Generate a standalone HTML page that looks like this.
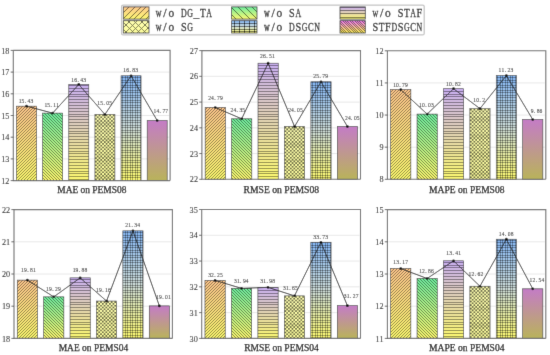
<!DOCTYPE html>
<html><head><meta charset="utf-8"><style>
html,body{margin:0;padding:0;background:#fff;}
body{width:550px;height:355px;overflow:hidden;font-family:"Liberation Serif", serif;}
svg{display:block;}
</style></head><body>
<svg width="550" height="355" viewBox="0 0 550 355" font-family='"Liberation Serif", serif'>
<defs>
<linearGradient id="g0" x1="0" y1="0" x2="0" y2="1"><stop offset="0" stop-color="#fcc68c"/><stop offset="1" stop-color="#fbf870"/></linearGradient>
<linearGradient id="g1" x1="0" y1="0" x2="0" y2="1"><stop offset="0" stop-color="#70ee9e"/><stop offset="1" stop-color="#fbf870"/></linearGradient>
<linearGradient id="g2" x1="0" y1="0" x2="0" y2="1"><stop offset="0" stop-color="#c8aef0"/><stop offset="1" stop-color="#fbf870"/></linearGradient>
<linearGradient id="g3" x1="0" y1="0" x2="0" y2="1"><stop offset="0" stop-color="#fcfcb0"/><stop offset="1" stop-color="#fcfc9c"/></linearGradient>
<linearGradient id="g4" x1="0" y1="0" x2="0" y2="1"><stop offset="0" stop-color="#84b6f4"/><stop offset="0.5" stop-color="#cddcd8"/><stop offset="1" stop-color="#fbf870"/></linearGradient>
<linearGradient id="g5" x1="0" y1="0" x2="0" y2="1"><stop offset="0" stop-color="#c47cc6"/><stop offset="1" stop-color="#b9b35a"/></linearGradient>
<pattern id="h0" patternUnits="userSpaceOnUse" width="20" height="2.1213" y="0" patternTransform="rotate(-45)"><rect x="0" y="0" width="20" height="0.375" fill="#000" fill-opacity="0.55"/><rect x="0" y="1.7463" width="20" height="0.375" fill="#000" fill-opacity="0.55"/></pattern>
<pattern id="h1" patternUnits="userSpaceOnUse" width="20" height="2.1213" y="0" patternTransform="rotate(45)"><rect x="0" y="0" width="20" height="0.375" fill="#000" fill-opacity="0.55"/><rect x="0" y="1.7463" width="20" height="0.375" fill="#000" fill-opacity="0.55"/></pattern>
<pattern id="h2" patternUnits="userSpaceOnUse" width="20" height="2.9000" y="0"><rect x="0" y="0" width="20" height="0.400" fill="#000" fill-opacity="0.55"/><rect x="0" y="2.5000" width="20" height="0.400" fill="#000" fill-opacity="0.55"/></pattern>
<pattern id="h3a" patternUnits="userSpaceOnUse" width="20" height="2.4042" y="0" patternTransform="rotate(45)"><rect x="0" y="0" width="20" height="0.300" fill="#000" fill-opacity="0.55"/><rect x="0" y="2.1042" width="20" height="0.300" fill="#000" fill-opacity="0.55"/></pattern>
<pattern id="h3b" patternUnits="userSpaceOnUse" width="20" height="2.4042" y="0" patternTransform="rotate(-45)"><rect x="0" y="0" width="20" height="0.300" fill="#000" fill-opacity="0.55"/><rect x="0" y="2.1042" width="20" height="0.300" fill="#000" fill-opacity="0.55"/></pattern>
<pattern id="h4a" patternUnits="userSpaceOnUse" width="20" height="2.6500" y="0"><rect x="0" y="0" width="20" height="0.300" fill="#000" fill-opacity="0.55"/><rect x="0" y="2.3500" width="20" height="0.300" fill="#000" fill-opacity="0.55"/></pattern>
<pattern id="h4b" patternUnits="userSpaceOnUse" width="20" height="2.6500" y="0" patternTransform="rotate(90)"><rect x="0" y="0" width="20" height="0.300" fill="#000" fill-opacity="0.55"/><rect x="0" y="2.3500" width="20" height="0.300" fill="#000" fill-opacity="0.55"/></pattern>
<pattern id="l0" patternUnits="userSpaceOnUse" width="20" height="4.1719" y="0" patternTransform="rotate(-45)"><rect x="0" y="0" width="20" height="0.550" fill="#000" fill-opacity="0.8"/><rect x="0" y="3.6219" width="20" height="0.550" fill="#000" fill-opacity="0.8"/></pattern>
<pattern id="l1" patternUnits="userSpaceOnUse" width="20" height="4.9497" y="0" patternTransform="rotate(45)"><rect x="0" y="0" width="20" height="0.550" fill="#000" fill-opacity="0.85"/><rect x="0" y="4.3997" width="20" height="0.550" fill="#000" fill-opacity="0.85"/></pattern>
<pattern id="l2" patternUnits="userSpaceOnUse" width="20" height="3.3000" y="7.3"><rect x="0" y="0" width="20" height="0.450" fill="#000" fill-opacity="0.55"/><rect x="0" y="2.8500" width="20" height="0.450" fill="#000" fill-opacity="0.55"/></pattern>
<pattern id="l3a" patternUnits="userSpaceOnUse" width="20" height="4.4548" y="0" patternTransform="rotate(45)"><rect x="0" y="0" width="20" height="0.400" fill="#000" fill-opacity="0.8"/><rect x="0" y="4.0548" width="20" height="0.400" fill="#000" fill-opacity="0.8"/></pattern>
<pattern id="l3b" patternUnits="userSpaceOnUse" width="20" height="4.4548" y="0" patternTransform="rotate(-45)"><rect x="0" y="0" width="20" height="0.400" fill="#000" fill-opacity="0.8"/><rect x="0" y="4.0548" width="20" height="0.400" fill="#000" fill-opacity="0.8"/></pattern>
<pattern id="l4a" patternUnits="userSpaceOnUse" width="20" height="2.9000" y="0"><rect x="0" y="0" width="20" height="0.400" fill="#000" fill-opacity="0.7"/><rect x="0" y="2.5000" width="20" height="0.400" fill="#000" fill-opacity="0.7"/></pattern>
<pattern id="l4b" patternUnits="userSpaceOnUse" width="20" height="5.2000" y="0" patternTransform="rotate(90)"><rect x="0" y="0" width="20" height="0.450" fill="#000" fill-opacity="0.7"/><rect x="0" y="4.7500" width="20" height="0.450" fill="#000" fill-opacity="0.7"/></pattern>
<pattern id="l5" patternUnits="userSpaceOnUse" width="20" height="1.6971" y="0" patternTransform="rotate(45)"><rect x="0" y="0" width="20" height="0.375" fill="#000" fill-opacity="0.85"/><rect x="0" y="1.3221" width="20" height="0.375" fill="#000" fill-opacity="0.85"/></pattern>
<linearGradient id="lg5" x1="0" y1="0" x2="0" y2="1"><stop offset="0" stop-color="#f07cf0"/><stop offset="1" stop-color="#f8f050"/></linearGradient>
<filter id="soft" x="0" y="0" width="550" height="355" filterUnits="userSpaceOnUse"><feConvolveMatrix order="3" kernelMatrix="0 1 0 1 8 1 0 1 0" divisor="12" edgeMode="duplicate"/></filter>
</defs>
<g filter="url(#soft)">
<rect width="550" height="355" fill="#fff"/>
<rect x="121.6" y="5.1" width="302.6" height="29.8" rx="1.5" fill="#fff" stroke="#c4c4c4" stroke-width="1.3"/>
<rect x="123.3" y="6.9" width="25.7" height="12.2" fill="url(#g0)"/>
<path d="M123.30,12.70L129.10,6.90M123.30,18.70L135.10,6.90M128.90,19.10L141.10,6.90M133.90,19.10L146.10,6.90M139.90,19.10L149.00,10.00M145.90,19.10L149.00,16.00" stroke="#000" stroke-opacity="0.85" stroke-width="0.8" fill="none"/>
<rect x="123.3" y="6.9" width="25.7" height="12.2" fill="none" stroke="#444" stroke-width="0.8"/>
<g font-size="12.0" fill="#2a2a2a" stroke="#2a2a2a" stroke-width="0.3"><text transform="translate(158.65,17.4) scale(0.658,1)" text-anchor="middle">w</text><text transform="translate(164.95,17.4) scale(1.000,1)" text-anchor="middle">/</text><text transform="translate(171.25,17.4) scale(0.950,1)" text-anchor="middle">o</text><text transform="translate(183.85,17.4) scale(0.658,1)" text-anchor="middle">D</text><text transform="translate(190.15,17.4) scale(0.658,1)" text-anchor="middle">G</text><text transform="translate(196.45,17.4) scale(0.950,1)" text-anchor="middle">_</text><text transform="translate(202.75,17.4) scale(0.778,1)" text-anchor="middle">T</text><text transform="translate(209.05,17.4) scale(0.658,1)" text-anchor="middle">A</text></g>
<rect x="123.3" y="20.7" width="25.7" height="12.3" fill="url(#g3)"/>
<path d="M123.30,21.70L124.30,20.70M123.30,27.70L130.30,20.70M125.00,33.00L137.30,20.70M131.00,33.00L143.30,20.70M137.00,33.00L149.00,21.00M143.00,33.00L149.00,27.00" stroke="#000" stroke-opacity="0.85" stroke-width="0.7" fill="none"/><path d="M123.30,29.30L127.00,33.00M123.30,22.30L134.00,33.00M127.70,20.70L140.00,33.00M133.70,20.70L146.00,33.00M140.70,20.70L149.00,29.00M146.70,20.70L149.00,23.00" stroke="#000" stroke-opacity="0.85" stroke-width="0.7" fill="none"/>
<rect x="123.3" y="20.7" width="25.7" height="12.3" fill="none" stroke="#444" stroke-width="0.8"/>
<g font-size="12.0" fill="#2a2a2a" stroke="#2a2a2a" stroke-width="0.3"><text transform="translate(158.65,31.2) scale(0.658,1)" text-anchor="middle">w</text><text transform="translate(164.95,31.2) scale(1.000,1)" text-anchor="middle">/</text><text transform="translate(171.25,31.2) scale(0.950,1)" text-anchor="middle">o</text><text transform="translate(183.85,31.2) scale(0.854,1)" text-anchor="middle">S</text><text transform="translate(190.15,31.2) scale(0.658,1)" text-anchor="middle">G</text></g>
<rect x="231.6" y="6.9" width="25.4" height="12.2" fill="url(#g1)"/>
<path d="M231.60,14.60L236.10,19.10M231.60,7.60L243.10,19.10M237.90,6.90L250.10,19.10M244.90,6.90L257.00,19.00M251.90,6.90L257.00,12.00" stroke="#000" stroke-opacity="0.9" stroke-width="0.8" fill="none"/>
<rect x="231.6" y="6.9" width="25.4" height="12.2" fill="none" stroke="#444" stroke-width="0.8"/>
<g font-size="12.0" fill="#2a2a2a" stroke="#2a2a2a" stroke-width="0.3"><text transform="translate(266.75,17.4) scale(0.658,1)" text-anchor="middle">w</text><text transform="translate(273.05,17.4) scale(1.000,1)" text-anchor="middle">/</text><text transform="translate(279.35,17.4) scale(0.950,1)" text-anchor="middle">o</text><text transform="translate(291.95,17.4) scale(0.854,1)" text-anchor="middle">S</text><text transform="translate(298.25,17.4) scale(0.658,1)" text-anchor="middle">A</text></g>
<rect x="231.6" y="20.7" width="25.4" height="12.3" fill="url(#g4)"/>
<path d="M231.60,23.50H257.00M231.60,26.50H257.00M231.60,29.50H257.00M231.60,31.50H257.00" stroke="#000" stroke-opacity="0.75" stroke-width="0.7" fill="none"/><path d="M234.50,20.70V33.00M239.50,20.70V33.00M244.50,20.70V33.00M249.50,20.70V33.00M254.50,20.70V33.00" stroke="#000" stroke-opacity="0.75" stroke-width="0.8" fill="none"/>
<rect x="231.6" y="20.7" width="25.4" height="12.3" fill="none" stroke="#444" stroke-width="0.8"/>
<g font-size="12.0" fill="#2a2a2a" stroke="#2a2a2a" stroke-width="0.3"><text transform="translate(266.75,31.2) scale(0.658,1)" text-anchor="middle">w</text><text transform="translate(273.05,31.2) scale(1.000,1)" text-anchor="middle">/</text><text transform="translate(279.35,31.2) scale(0.950,1)" text-anchor="middle">o</text><text transform="translate(291.95,31.2) scale(0.658,1)" text-anchor="middle">D</text><text transform="translate(298.25,31.2) scale(0.854,1)" text-anchor="middle">S</text><text transform="translate(304.55,31.2) scale(0.658,1)" text-anchor="middle">G</text><text transform="translate(310.85,31.2) scale(0.712,1)" text-anchor="middle">C</text><text transform="translate(317.15,31.2) scale(0.658,1)" text-anchor="middle">N</text></g>
<rect x="340.0" y="6.9" width="25.3" height="12.2" fill="url(#g2)"/>
<path d="M340.00,7.50H365.30M340.00,10.50H365.30M340.00,13.50H365.30M340.00,17.50H365.30" stroke="#000" stroke-opacity="0.6" stroke-width="0.8" fill="none"/>
<rect x="340.0" y="6.9" width="25.3" height="12.2" fill="none" stroke="#444" stroke-width="0.8"/>
<g font-size="12.0" fill="#2a2a2a" stroke="#2a2a2a" stroke-width="0.3"><text transform="translate(375.35,17.4) scale(0.658,1)" text-anchor="middle">w</text><text transform="translate(381.65,17.4) scale(1.000,1)" text-anchor="middle">/</text><text transform="translate(387.95,17.4) scale(0.950,1)" text-anchor="middle">o</text><text transform="translate(400.55,17.4) scale(0.854,1)" text-anchor="middle">S</text><text transform="translate(406.85,17.4) scale(0.778,1)" text-anchor="middle">T</text><text transform="translate(413.15,17.4) scale(0.658,1)" text-anchor="middle">A</text><text transform="translate(419.45,17.4) scale(0.854,1)" text-anchor="middle">F</text></g>
<rect x="340.0" y="20.7" width="25.3" height="12.3" fill="url(#lg5)"/>
<path d="M340.00,30.00L343.00,33.00M340.00,28.00L345.00,33.00M340.00,26.00L347.00,33.00M340.00,23.00L350.00,33.00M340.00,21.00L352.00,33.00M342.70,20.70L355.00,33.00M344.70,20.70L357.00,33.00M346.70,20.70L359.00,33.00M349.70,20.70L362.00,33.00M351.70,20.70L364.00,33.00M354.70,20.70L365.30,31.30M356.70,20.70L365.30,29.30M358.70,20.70L365.30,27.30M361.70,20.70L365.30,24.30M363.70,20.70L365.30,22.30" stroke="#000" stroke-opacity="0.9" stroke-width="0.6" fill="none"/>
<rect x="340.0" y="20.7" width="25.3" height="12.3" fill="none" stroke="#444" stroke-width="0.8"/>
<g font-size="12.0" fill="#2a2a2a" stroke="#2a2a2a" stroke-width="0.3"><text transform="translate(375.35,31.2) scale(0.854,1)" text-anchor="middle">S</text><text transform="translate(381.65,31.2) scale(0.778,1)" text-anchor="middle">T</text><text transform="translate(387.95,31.2) scale(0.854,1)" text-anchor="middle">F</text><text transform="translate(394.25,31.2) scale(0.658,1)" text-anchor="middle">D</text><text transform="translate(400.55,31.2) scale(0.854,1)" text-anchor="middle">S</text><text transform="translate(406.85,31.2) scale(0.658,1)" text-anchor="middle">G</text><text transform="translate(413.15,31.2) scale(0.712,1)" text-anchor="middle">C</text><text transform="translate(419.45,31.2) scale(0.658,1)" text-anchor="middle">N</text></g>
<line x1="14.3" y1="158.90" x2="169.1" y2="158.90" stroke="#e2e2e2" stroke-width="0.8"/>
<line x1="14.3" y1="137.20" x2="169.1" y2="137.20" stroke="#e2e2e2" stroke-width="0.8"/>
<line x1="14.3" y1="115.50" x2="169.1" y2="115.50" stroke="#e2e2e2" stroke-width="0.8"/>
<line x1="14.3" y1="93.80" x2="169.1" y2="93.80" stroke="#e2e2e2" stroke-width="0.8"/>
<line x1="14.3" y1="72.10" x2="169.1" y2="72.10" stroke="#e2e2e2" stroke-width="0.8"/>
<rect x="16.52" y="106.17" width="19.99" height="74.43" fill="url(#g0)"/>
<path d="M16.52,106.48L16.83,106.17M16.52,109.48L19.83,106.17M16.52,112.48L22.83,106.17M16.52,115.48L25.83,106.17M16.52,118.48L28.83,106.17M16.52,121.48L31.83,106.17M16.52,124.48L34.83,106.17M16.52,127.48L36.51,107.49M16.52,130.48L36.51,110.49M16.52,133.48L36.51,113.49M16.52,136.48L36.51,116.49M16.52,139.48L36.51,119.49M16.52,142.48L36.51,122.49M16.52,145.48L36.51,125.49M16.52,148.48L36.51,128.49M16.52,151.48L36.51,131.49M16.52,154.48L36.51,134.49M16.52,157.48L36.51,137.49M16.52,160.48L36.51,140.49M16.52,163.48L36.51,143.49M16.52,166.48L36.51,146.49M16.52,169.48L36.51,149.49M16.52,172.48L36.51,152.49M16.52,175.48L36.51,155.49M16.52,178.48L36.51,158.49M17.40,180.60L36.51,161.49M20.40,180.60L36.51,164.49M23.40,180.60L36.51,167.49M26.40,180.60L36.51,170.49M29.40,180.60L36.51,173.49M32.40,180.60L36.51,176.49M35.40,180.60L36.51,179.49" stroke="#000" stroke-opacity="0.58" stroke-width="0.9" fill="none"/>
<rect x="16.52" y="106.17" width="19.99" height="74.43" fill="none" stroke="#3a3a3a" stroke-width="0.6"/>
<rect x="42.65" y="113.11" width="19.99" height="67.49" fill="url(#g1)"/>
<path d="M42.65,177.65L45.60,180.60M42.65,174.65L48.60,180.60M42.65,171.65L51.60,180.60M42.65,168.65L54.60,180.60M42.65,165.65L57.60,180.60M42.65,162.65L60.60,180.60M42.65,159.65L62.65,179.65M42.65,156.65L62.65,176.65M42.65,153.65L62.65,173.65M42.65,150.65L62.65,170.65M42.65,147.65L62.65,167.65M42.65,144.65L62.65,164.65M42.65,141.65L62.65,161.65M42.65,138.65L62.65,158.65M42.65,135.65L62.65,155.65M42.65,132.65L62.65,152.65M42.65,129.65L62.65,149.65M42.65,126.65L62.65,146.65M42.65,123.65L62.65,143.65M42.65,120.65L62.65,140.65M42.65,117.65L62.65,137.65M42.65,114.65L62.65,134.65M44.11,113.11L62.65,131.65M47.11,113.11L62.65,128.65M50.11,113.11L62.65,125.65M53.11,113.11L62.65,122.65M56.11,113.11L62.65,119.65M59.11,113.11L62.65,116.65M62.11,113.11L62.65,113.65" stroke="#000" stroke-opacity="0.62" stroke-width="0.9" fill="none"/>
<rect x="42.65" y="113.11" width="19.99" height="67.49" fill="none" stroke="#3a3a3a" stroke-width="0.6"/>
<rect x="68.79" y="84.47" width="19.99" height="96.13" fill="url(#g2)"/>
<path d="M68.79,85.50H88.78M68.79,88.50H88.78M68.79,91.50H88.78M68.79,94.50H88.78M68.79,96.50H88.78M68.79,99.50H88.78M68.79,102.50H88.78M68.79,105.50H88.78M68.79,108.50H88.78M68.79,111.50H88.78M68.79,114.50H88.78M68.79,116.50H88.78M68.79,119.50H88.78M68.79,122.50H88.78M68.79,125.50H88.78M68.79,128.50H88.78M68.79,131.50H88.78M68.79,133.50H88.78M68.79,136.50H88.78M68.79,139.50H88.78M68.79,142.50H88.78M68.79,145.50H88.78M68.79,148.50H88.78M68.79,151.50H88.78M68.79,153.50H88.78M68.79,156.50H88.78M68.79,159.50H88.78M68.79,162.50H88.78M68.79,165.50H88.78M68.79,168.50H88.78M68.79,171.50H88.78M68.79,173.50H88.78M68.79,176.50H88.78M68.79,179.50H88.78" stroke="#000" stroke-opacity="0.5" stroke-width="0.8" fill="none"/>
<rect x="68.79" y="84.47" width="19.99" height="96.13" fill="none" stroke="#3a3a3a" stroke-width="0.6"/>
<rect x="94.92" y="114.41" width="19.99" height="66.19" fill="url(#g3)"/>
<path d="M95.12,114.71h1.60v1.60h-1.60zM98.67,114.71h1.60v1.60h-1.60zM102.22,114.71h1.60v1.60h-1.60zM105.77,114.71h1.60v1.60h-1.60zM109.32,114.71h1.60v1.60h-1.60zM112.87,114.71h1.60v1.60h-1.60zM96.90,116.49h1.60v1.60h-1.60zM100.45,116.49h1.60v1.60h-1.60zM104.00,116.49h1.60v1.60h-1.60zM107.55,116.49h1.60v1.60h-1.60zM111.10,116.49h1.60v1.60h-1.60zM114.65,116.49h0.27v1.60h-0.27zM95.12,118.26h1.60v1.60h-1.60zM98.67,118.26h1.60v1.60h-1.60zM102.22,118.26h1.60v1.60h-1.60zM105.77,118.26h1.60v1.60h-1.60zM109.32,118.26h1.60v1.60h-1.60zM112.87,118.26h1.60v1.60h-1.60zM96.90,120.04h1.60v1.60h-1.60zM100.45,120.04h1.60v1.60h-1.60zM104.00,120.04h1.60v1.60h-1.60zM107.55,120.04h1.60v1.60h-1.60zM111.10,120.04h1.60v1.60h-1.60zM114.65,120.04h0.27v1.60h-0.27zM95.12,121.81h1.60v1.60h-1.60zM98.67,121.81h1.60v1.60h-1.60zM102.22,121.81h1.60v1.60h-1.60zM105.77,121.81h1.60v1.60h-1.60zM109.32,121.81h1.60v1.60h-1.60zM112.87,121.81h1.60v1.60h-1.60zM96.90,123.59h1.60v1.60h-1.60zM100.45,123.59h1.60v1.60h-1.60zM104.00,123.59h1.60v1.60h-1.60zM107.55,123.59h1.60v1.60h-1.60zM111.10,123.59h1.60v1.60h-1.60zM114.65,123.59h0.27v1.60h-0.27zM95.12,125.36h1.60v1.60h-1.60zM98.67,125.36h1.60v1.60h-1.60zM102.22,125.36h1.60v1.60h-1.60zM105.77,125.36h1.60v1.60h-1.60zM109.32,125.36h1.60v1.60h-1.60zM112.87,125.36h1.60v1.60h-1.60zM96.90,127.14h1.60v1.60h-1.60zM100.45,127.14h1.60v1.60h-1.60zM104.00,127.14h1.60v1.60h-1.60zM107.55,127.14h1.60v1.60h-1.60zM111.10,127.14h1.60v1.60h-1.60zM114.65,127.14h0.27v1.60h-0.27zM95.12,128.91h1.60v1.60h-1.60zM98.67,128.91h1.60v1.60h-1.60zM102.22,128.91h1.60v1.60h-1.60zM105.77,128.91h1.60v1.60h-1.60zM109.32,128.91h1.60v1.60h-1.60zM112.87,128.91h1.60v1.60h-1.60zM96.90,130.69h1.60v1.60h-1.60zM100.45,130.69h1.60v1.60h-1.60zM104.00,130.69h1.60v1.60h-1.60zM107.55,130.69h1.60v1.60h-1.60zM111.10,130.69h1.60v1.60h-1.60zM114.65,130.69h0.27v1.60h-0.27zM95.12,132.46h1.60v1.60h-1.60zM98.67,132.46h1.60v1.60h-1.60zM102.22,132.46h1.60v1.60h-1.60zM105.77,132.46h1.60v1.60h-1.60zM109.32,132.46h1.60v1.60h-1.60zM112.87,132.46h1.60v1.60h-1.60zM96.90,134.24h1.60v1.60h-1.60zM100.45,134.24h1.60v1.60h-1.60zM104.00,134.24h1.60v1.60h-1.60zM107.55,134.24h1.60v1.60h-1.60zM111.10,134.24h1.60v1.60h-1.60zM114.65,134.24h0.27v1.60h-0.27zM95.12,136.01h1.60v1.60h-1.60zM98.67,136.01h1.60v1.60h-1.60zM102.22,136.01h1.60v1.60h-1.60zM105.77,136.01h1.60v1.60h-1.60zM109.32,136.01h1.60v1.60h-1.60zM112.87,136.01h1.60v1.60h-1.60zM96.90,137.79h1.60v1.60h-1.60zM100.45,137.79h1.60v1.60h-1.60zM104.00,137.79h1.60v1.60h-1.60zM107.55,137.79h1.60v1.60h-1.60zM111.10,137.79h1.60v1.60h-1.60zM114.65,137.79h0.27v1.60h-0.27zM95.12,139.56h1.60v1.60h-1.60zM98.67,139.56h1.60v1.60h-1.60zM102.22,139.56h1.60v1.60h-1.60zM105.77,139.56h1.60v1.60h-1.60zM109.32,139.56h1.60v1.60h-1.60zM112.87,139.56h1.60v1.60h-1.60zM96.90,141.34h1.60v1.60h-1.60zM100.45,141.34h1.60v1.60h-1.60zM104.00,141.34h1.60v1.60h-1.60zM107.55,141.34h1.60v1.60h-1.60zM111.10,141.34h1.60v1.60h-1.60zM114.65,141.34h0.27v1.60h-0.27zM95.12,143.11h1.60v1.60h-1.60zM98.67,143.11h1.60v1.60h-1.60zM102.22,143.11h1.60v1.60h-1.60zM105.77,143.11h1.60v1.60h-1.60zM109.32,143.11h1.60v1.60h-1.60zM112.87,143.11h1.60v1.60h-1.60zM96.90,144.89h1.60v1.60h-1.60zM100.45,144.89h1.60v1.60h-1.60zM104.00,144.89h1.60v1.60h-1.60zM107.55,144.89h1.60v1.60h-1.60zM111.10,144.89h1.60v1.60h-1.60zM114.65,144.89h0.27v1.60h-0.27zM95.12,146.66h1.60v1.60h-1.60zM98.67,146.66h1.60v1.60h-1.60zM102.22,146.66h1.60v1.60h-1.60zM105.77,146.66h1.60v1.60h-1.60zM109.32,146.66h1.60v1.60h-1.60zM112.87,146.66h1.60v1.60h-1.60zM96.90,148.44h1.60v1.60h-1.60zM100.45,148.44h1.60v1.60h-1.60zM104.00,148.44h1.60v1.60h-1.60zM107.55,148.44h1.60v1.60h-1.60zM111.10,148.44h1.60v1.60h-1.60zM114.65,148.44h0.27v1.60h-0.27zM95.12,150.21h1.60v1.60h-1.60zM98.67,150.21h1.60v1.60h-1.60zM102.22,150.21h1.60v1.60h-1.60zM105.77,150.21h1.60v1.60h-1.60zM109.32,150.21h1.60v1.60h-1.60zM112.87,150.21h1.60v1.60h-1.60zM96.90,151.99h1.60v1.60h-1.60zM100.45,151.99h1.60v1.60h-1.60zM104.00,151.99h1.60v1.60h-1.60zM107.55,151.99h1.60v1.60h-1.60zM111.10,151.99h1.60v1.60h-1.60zM114.65,151.99h0.27v1.60h-0.27zM95.12,153.76h1.60v1.60h-1.60zM98.67,153.76h1.60v1.60h-1.60zM102.22,153.76h1.60v1.60h-1.60zM105.77,153.76h1.60v1.60h-1.60zM109.32,153.76h1.60v1.60h-1.60zM112.87,153.76h1.60v1.60h-1.60zM96.90,155.54h1.60v1.60h-1.60zM100.45,155.54h1.60v1.60h-1.60zM104.00,155.54h1.60v1.60h-1.60zM107.55,155.54h1.60v1.60h-1.60zM111.10,155.54h1.60v1.60h-1.60zM114.65,155.54h0.27v1.60h-0.27zM95.12,157.31h1.60v1.60h-1.60zM98.67,157.31h1.60v1.60h-1.60zM102.22,157.31h1.60v1.60h-1.60zM105.77,157.31h1.60v1.60h-1.60zM109.32,157.31h1.60v1.60h-1.60zM112.87,157.31h1.60v1.60h-1.60zM96.90,159.09h1.60v1.60h-1.60zM100.45,159.09h1.60v1.60h-1.60zM104.00,159.09h1.60v1.60h-1.60zM107.55,159.09h1.60v1.60h-1.60zM111.10,159.09h1.60v1.60h-1.60zM114.65,159.09h0.27v1.60h-0.27zM95.12,160.86h1.60v1.60h-1.60zM98.67,160.86h1.60v1.60h-1.60zM102.22,160.86h1.60v1.60h-1.60zM105.77,160.86h1.60v1.60h-1.60zM109.32,160.86h1.60v1.60h-1.60zM112.87,160.86h1.60v1.60h-1.60zM96.90,162.64h1.60v1.60h-1.60zM100.45,162.64h1.60v1.60h-1.60zM104.00,162.64h1.60v1.60h-1.60zM107.55,162.64h1.60v1.60h-1.60zM111.10,162.64h1.60v1.60h-1.60zM114.65,162.64h0.27v1.60h-0.27zM95.12,164.41h1.60v1.60h-1.60zM98.67,164.41h1.60v1.60h-1.60zM102.22,164.41h1.60v1.60h-1.60zM105.77,164.41h1.60v1.60h-1.60zM109.32,164.41h1.60v1.60h-1.60zM112.87,164.41h1.60v1.60h-1.60zM96.90,166.19h1.60v1.60h-1.60zM100.45,166.19h1.60v1.60h-1.60zM104.00,166.19h1.60v1.60h-1.60zM107.55,166.19h1.60v1.60h-1.60zM111.10,166.19h1.60v1.60h-1.60zM114.65,166.19h0.27v1.60h-0.27zM95.12,167.96h1.60v1.60h-1.60zM98.67,167.96h1.60v1.60h-1.60zM102.22,167.96h1.60v1.60h-1.60zM105.77,167.96h1.60v1.60h-1.60zM109.32,167.96h1.60v1.60h-1.60zM112.87,167.96h1.60v1.60h-1.60zM96.90,169.74h1.60v1.60h-1.60zM100.45,169.74h1.60v1.60h-1.60zM104.00,169.74h1.60v1.60h-1.60zM107.55,169.74h1.60v1.60h-1.60zM111.10,169.74h1.60v1.60h-1.60zM114.65,169.74h0.27v1.60h-0.27zM95.12,171.51h1.60v1.60h-1.60zM98.67,171.51h1.60v1.60h-1.60zM102.22,171.51h1.60v1.60h-1.60zM105.77,171.51h1.60v1.60h-1.60zM109.32,171.51h1.60v1.60h-1.60zM112.87,171.51h1.60v1.60h-1.60zM96.90,173.29h1.60v1.60h-1.60zM100.45,173.29h1.60v1.60h-1.60zM104.00,173.29h1.60v1.60h-1.60zM107.55,173.29h1.60v1.60h-1.60zM111.10,173.29h1.60v1.60h-1.60zM114.65,173.29h0.27v1.60h-0.27zM95.12,175.06h1.60v1.60h-1.60zM98.67,175.06h1.60v1.60h-1.60zM102.22,175.06h1.60v1.60h-1.60zM105.77,175.06h1.60v1.60h-1.60zM109.32,175.06h1.60v1.60h-1.60zM112.87,175.06h1.60v1.60h-1.60zM96.90,176.84h1.60v1.60h-1.60zM100.45,176.84h1.60v1.60h-1.60zM104.00,176.84h1.60v1.60h-1.60zM107.55,176.84h1.60v1.60h-1.60zM111.10,176.84h1.60v1.60h-1.60zM114.65,176.84h0.27v1.60h-0.27zM95.12,178.61h1.60v1.60h-1.60zM98.67,178.61h1.60v1.60h-1.60zM102.22,178.61h1.60v1.60h-1.60zM105.77,178.61h1.60v1.60h-1.60zM109.32,178.61h1.60v1.60h-1.60zM112.87,178.61h1.60v1.60h-1.60zM96.90,180.39h1.60v0.21h-1.60zM100.45,180.39h1.60v0.21h-1.60zM104.00,180.39h1.60v0.21h-1.60zM107.55,180.39h1.60v0.21h-1.60zM111.10,180.39h1.60v0.21h-1.60zM114.65,180.39h0.27v0.21h-0.27z" fill="#000" fill-opacity="0.68"/>
<rect x="94.92" y="114.41" width="19.99" height="66.19" fill="none" stroke="#3a3a3a" stroke-width="0.6"/>
<rect x="121.05" y="75.79" width="19.99" height="104.81" fill="url(#g4)"/>
<path d="M121.05,77.50H141.05M121.05,80.50H141.05M121.05,82.50H141.05M121.05,85.50H141.05M121.05,87.50H141.05M121.05,90.50H141.05M121.05,92.50H141.05M121.05,95.50H141.05M121.05,97.50H141.05M121.05,100.50H141.05M121.05,102.50H141.05M121.05,105.50H141.05M121.05,107.50H141.05M121.05,110.50H141.05M121.05,112.50H141.05M121.05,115.50H141.05M121.05,117.50H141.05M121.05,120.50H141.05M121.05,122.50H141.05M121.05,125.50H141.05M121.05,127.50H141.05M121.05,130.50H141.05M121.05,132.50H141.05M121.05,135.50H141.05M121.05,137.50H141.05M121.05,140.50H141.05M121.05,142.50H141.05M121.05,145.50H141.05M121.05,147.50H141.05M121.05,150.50H141.05M121.05,152.50H141.05M121.05,155.50H141.05M121.05,157.50H141.05M121.05,160.50H141.05M121.05,162.50H141.05M121.05,165.50H141.05M121.05,167.50H141.05M121.05,170.50H141.05M121.05,172.50H141.05M121.05,175.50H141.05M121.05,177.50H141.05M121.05,180.50H141.05" stroke="#000" stroke-opacity="0.55" stroke-width="0.6" fill="none"/><path d="M122.50,75.79V180.60M125.50,75.79V180.60M127.50,75.79V180.60M130.50,75.79V180.60M132.50,75.79V180.60M135.50,75.79V180.60M137.50,75.79V180.60M140.50,75.79V180.60" stroke="#000" stroke-opacity="0.55" stroke-width="0.6" fill="none"/>
<rect x="121.05" y="75.79" width="19.99" height="104.81" fill="none" stroke="#3a3a3a" stroke-width="0.6"/>
<rect x="147.19" y="120.49" width="19.99" height="60.11" fill="url(#g5)"/>

<rect x="147.19" y="120.49" width="19.99" height="60.11" fill="none" stroke="#3a3a3a" stroke-width="0.6"/>
<path d="M26.52,106.17 L52.65,113.11 L78.78,84.47 L104.92,114.41 L131.05,75.79 L157.18,120.49" fill="none" stroke="#222" stroke-width="0.9"/>
<circle cx="26.52" cy="106.17" r="1.35" fill="#111"/>
<circle cx="52.65" cy="113.11" r="1.35" fill="#111"/>
<circle cx="78.78" cy="84.47" r="1.35" fill="#111"/>
<circle cx="104.92" cy="114.41" r="1.35" fill="#111"/>
<circle cx="131.05" cy="75.79" r="1.35" fill="#111"/>
<circle cx="157.18" cy="120.49" r="1.35" fill="#111"/>
<g font-size="6.8" fill="#3c3c3c" stroke="#3c3c3c" stroke-width="0.1"><text transform="translate(20.05,103.30) scale(0.82,1)" text-anchor="middle">1</text><text transform="translate(23.00,103.30) scale(0.82,1)" text-anchor="middle">5</text><text transform="translate(25.50,103.30) scale(0.82,1)" text-anchor="middle">.</text><text transform="translate(29.00,103.30) scale(0.82,1)" text-anchor="middle">4</text><text transform="translate(31.95,103.30) scale(0.82,1)" text-anchor="middle">3</text></g>
<g font-size="6.8" fill="#3c3c3c" stroke="#3c3c3c" stroke-width="0.1"><text transform="translate(45.80,106.90) scale(0.82,1)" text-anchor="middle">1</text><text transform="translate(48.75,106.90) scale(0.82,1)" text-anchor="middle">5</text><text transform="translate(51.25,106.90) scale(0.82,1)" text-anchor="middle">.</text><text transform="translate(54.75,106.90) scale(0.82,1)" text-anchor="middle">1</text><text transform="translate(57.70,106.90) scale(0.82,1)" text-anchor="middle">1</text></g>
<g font-size="6.8" fill="#3c3c3c" stroke="#3c3c3c" stroke-width="0.1"><text transform="translate(72.70,82.05) scale(0.82,1)" text-anchor="middle">1</text><text transform="translate(75.65,82.05) scale(0.82,1)" text-anchor="middle">6</text><text transform="translate(78.15,82.05) scale(0.82,1)" text-anchor="middle">.</text><text transform="translate(81.65,82.05) scale(0.82,1)" text-anchor="middle">4</text><text transform="translate(84.60,82.05) scale(0.82,1)" text-anchor="middle">3</text></g>
<g font-size="6.8" fill="#3c3c3c" stroke="#3c3c3c" stroke-width="0.1"><text transform="translate(98.75,105.20) scale(0.82,1)" text-anchor="middle">1</text><text transform="translate(101.70,105.20) scale(0.82,1)" text-anchor="middle">5</text><text transform="translate(104.20,105.20) scale(0.82,1)" text-anchor="middle">.</text><text transform="translate(107.70,105.20) scale(0.82,1)" text-anchor="middle">0</text><text transform="translate(110.65,105.20) scale(0.82,1)" text-anchor="middle">5</text></g>
<g font-size="6.8" fill="#3c3c3c" stroke="#3c3c3c" stroke-width="0.1"><text transform="translate(124.65,72.05) scale(0.82,1)" text-anchor="middle">1</text><text transform="translate(127.60,72.05) scale(0.82,1)" text-anchor="middle">6</text><text transform="translate(130.10,72.05) scale(0.82,1)" text-anchor="middle">.</text><text transform="translate(133.60,72.05) scale(0.82,1)" text-anchor="middle">8</text><text transform="translate(136.55,72.05) scale(0.82,1)" text-anchor="middle">3</text></g>
<g font-size="6.8" fill="#3c3c3c" stroke="#3c3c3c" stroke-width="0.1"><text transform="translate(154.85,113.30) scale(0.82,1)" text-anchor="middle">1</text><text transform="translate(157.80,113.30) scale(0.82,1)" text-anchor="middle">4</text><text transform="translate(160.30,113.30) scale(0.82,1)" text-anchor="middle">.</text><text transform="translate(163.80,113.30) scale(0.82,1)" text-anchor="middle">7</text><text transform="translate(166.75,113.30) scale(0.82,1)" text-anchor="middle">7</text></g>
<path d="M13.3,50.4 H170.1 V180.6" fill="none" stroke="#6e6e6e" stroke-width="1.1"/>
<path d="M13.3,50.4 V180.6 H170.1" fill="none" stroke="#6e6e6e" stroke-width="1.1"/>
<line x1="10.700000000000001" y1="180.60" x2="13.3" y2="180.60" stroke="#555" stroke-width="0.9"/>
<text x="9.4" y="183.70" font-size="8.2" text-anchor="end" fill="#2a2a2a" stroke="#2a2a2a" stroke-width="0.08">12</text>
<line x1="10.700000000000001" y1="158.90" x2="13.3" y2="158.90" stroke="#555" stroke-width="0.9"/>
<text x="9.4" y="162.00" font-size="8.2" text-anchor="end" fill="#2a2a2a" stroke="#2a2a2a" stroke-width="0.08">13</text>
<line x1="10.700000000000001" y1="137.20" x2="13.3" y2="137.20" stroke="#555" stroke-width="0.9"/>
<text x="9.4" y="140.30" font-size="8.2" text-anchor="end" fill="#2a2a2a" stroke="#2a2a2a" stroke-width="0.08">14</text>
<line x1="10.700000000000001" y1="115.50" x2="13.3" y2="115.50" stroke="#555" stroke-width="0.9"/>
<text x="9.4" y="118.60" font-size="8.2" text-anchor="end" fill="#2a2a2a" stroke="#2a2a2a" stroke-width="0.08">15</text>
<line x1="10.700000000000001" y1="93.80" x2="13.3" y2="93.80" stroke="#555" stroke-width="0.9"/>
<text x="9.4" y="96.90" font-size="8.2" text-anchor="end" fill="#2a2a2a" stroke="#2a2a2a" stroke-width="0.08">16</text>
<line x1="10.700000000000001" y1="72.10" x2="13.3" y2="72.10" stroke="#555" stroke-width="0.9"/>
<text x="9.4" y="75.20" font-size="8.2" text-anchor="end" fill="#2a2a2a" stroke="#2a2a2a" stroke-width="0.08">17</text>
<line x1="10.700000000000001" y1="50.40" x2="13.3" y2="50.40" stroke="#555" stroke-width="0.9"/>
<text x="9.4" y="53.50" font-size="8.2" text-anchor="end" fill="#2a2a2a" stroke="#2a2a2a" stroke-width="0.08">18</text>
<text x="57.3" y="193.2" font-size="10" textLength="69.1" lengthAdjust="spacingAndGlyphs" fill="#111" stroke="#111" stroke-width="0.25">MAE on PEMS08</text>
<line x1="202.9" y1="153.56" x2="359.5" y2="153.56" stroke="#e2e2e2" stroke-width="0.8"/>
<line x1="202.9" y1="127.82" x2="359.5" y2="127.82" stroke="#e2e2e2" stroke-width="0.8"/>
<line x1="202.9" y1="102.08" x2="359.5" y2="102.08" stroke="#e2e2e2" stroke-width="0.8"/>
<line x1="202.9" y1="76.34" x2="359.5" y2="76.34" stroke="#e2e2e2" stroke-width="0.8"/>
<rect x="205.16" y="107.49" width="20.22" height="71.81" fill="url(#g0)"/>
<path d="M205.16,109.84L207.51,107.49M205.16,112.84L210.51,107.49M205.16,115.84L213.51,107.49M205.16,118.84L216.51,107.49M205.16,121.84L219.51,107.49M205.16,124.84L222.51,107.49M205.16,127.84L225.38,107.62M205.16,130.84L225.38,110.62M205.16,133.84L225.38,113.62M205.16,136.84L225.38,116.62M205.16,139.84L225.38,119.62M205.16,142.84L225.38,122.62M205.16,145.84L225.38,125.62M205.16,148.84L225.38,128.62M205.16,151.84L225.38,131.62M205.16,154.84L225.38,134.62M205.16,157.84L225.38,137.62M205.16,160.84L225.38,140.62M205.16,163.84L225.38,143.62M205.16,166.84L225.38,146.62M205.16,169.84L225.38,149.62M205.16,172.84L225.38,152.62M205.16,175.84L225.38,155.62M205.16,178.84L225.38,158.62M207.70,179.30L225.38,161.62M210.70,179.30L225.38,164.62M213.70,179.30L225.38,167.62M216.70,179.30L225.38,170.62M219.70,179.30L225.38,173.62M222.70,179.30L225.38,176.62" stroke="#000" stroke-opacity="0.58" stroke-width="0.9" fill="none"/>
<rect x="205.16" y="107.49" width="20.22" height="71.81" fill="none" stroke="#3a3a3a" stroke-width="0.6"/>
<rect x="231.59" y="118.81" width="20.22" height="60.49" fill="url(#g1)"/>
<path d="M231.59,177.59L233.30,179.30M231.59,174.59L236.30,179.30M231.59,171.59L239.30,179.30M231.59,168.59L242.30,179.30M231.59,165.59L245.30,179.30M231.59,162.59L248.30,179.30M231.59,159.59L251.30,179.30M231.59,156.59L251.81,176.81M231.59,153.59L251.81,173.81M231.59,150.59L251.81,170.81M231.59,147.59L251.81,167.81M231.59,144.59L251.81,164.81M231.59,141.59L251.81,161.81M231.59,138.59L251.81,158.81M231.59,135.59L251.81,155.81M231.59,132.59L251.81,152.81M231.59,129.59L251.81,149.81M231.59,126.59L251.81,146.81M231.59,123.59L251.81,143.81M231.59,120.59L251.81,140.81M232.81,118.81L251.81,137.81M235.81,118.81L251.81,134.81M238.81,118.81L251.81,131.81M241.81,118.81L251.81,128.81M244.81,118.81L251.81,125.81M247.81,118.81L251.81,122.81M250.81,118.81L251.81,119.81" stroke="#000" stroke-opacity="0.62" stroke-width="0.9" fill="none"/>
<rect x="231.59" y="118.81" width="20.22" height="60.49" fill="none" stroke="#3a3a3a" stroke-width="0.6"/>
<rect x="258.02" y="63.21" width="20.22" height="116.09" fill="url(#g2)"/>
<path d="M258.02,65.50H278.24M258.02,68.50H278.24M258.02,71.50H278.24M258.02,74.50H278.24M258.02,76.50H278.24M258.02,79.50H278.24M258.02,82.50H278.24M258.02,85.50H278.24M258.02,88.50H278.24M258.02,91.50H278.24M258.02,94.50H278.24M258.02,96.50H278.24M258.02,99.50H278.24M258.02,102.50H278.24M258.02,105.50H278.24M258.02,108.50H278.24M258.02,111.50H278.24M258.02,114.50H278.24M258.02,116.50H278.24M258.02,119.50H278.24M258.02,122.50H278.24M258.02,125.50H278.24M258.02,128.50H278.24M258.02,131.50H278.24M258.02,133.50H278.24M258.02,136.50H278.24M258.02,139.50H278.24M258.02,142.50H278.24M258.02,145.50H278.24M258.02,148.50H278.24M258.02,151.50H278.24M258.02,153.50H278.24M258.02,156.50H278.24M258.02,159.50H278.24M258.02,162.50H278.24M258.02,165.50H278.24M258.02,168.50H278.24M258.02,171.50H278.24M258.02,173.50H278.24M258.02,176.50H278.24" stroke="#000" stroke-opacity="0.5" stroke-width="0.8" fill="none"/>
<rect x="258.02" y="63.21" width="20.22" height="116.09" fill="none" stroke="#3a3a3a" stroke-width="0.6"/>
<rect x="284.46" y="126.53" width="20.22" height="52.77" fill="url(#g3)"/>
<path d="M284.66,126.83h1.60v1.60h-1.60zM288.21,126.83h1.60v1.60h-1.60zM291.76,126.83h1.60v1.60h-1.60zM295.31,126.83h1.60v1.60h-1.60zM298.86,126.83h1.60v1.60h-1.60zM302.41,126.83h1.60v1.60h-1.60zM286.43,128.61h1.60v1.60h-1.60zM289.98,128.61h1.60v1.60h-1.60zM293.53,128.61h1.60v1.60h-1.60zM297.08,128.61h1.60v1.60h-1.60zM300.63,128.61h1.60v1.60h-1.60zM304.18,128.61h0.50v1.60h-0.50zM284.66,130.38h1.60v1.60h-1.60zM288.21,130.38h1.60v1.60h-1.60zM291.76,130.38h1.60v1.60h-1.60zM295.31,130.38h1.60v1.60h-1.60zM298.86,130.38h1.60v1.60h-1.60zM302.41,130.38h1.60v1.60h-1.60zM286.43,132.16h1.60v1.60h-1.60zM289.98,132.16h1.60v1.60h-1.60zM293.53,132.16h1.60v1.60h-1.60zM297.08,132.16h1.60v1.60h-1.60zM300.63,132.16h1.60v1.60h-1.60zM304.18,132.16h0.50v1.60h-0.50zM284.66,133.93h1.60v1.60h-1.60zM288.21,133.93h1.60v1.60h-1.60zM291.76,133.93h1.60v1.60h-1.60zM295.31,133.93h1.60v1.60h-1.60zM298.86,133.93h1.60v1.60h-1.60zM302.41,133.93h1.60v1.60h-1.60zM286.43,135.71h1.60v1.60h-1.60zM289.98,135.71h1.60v1.60h-1.60zM293.53,135.71h1.60v1.60h-1.60zM297.08,135.71h1.60v1.60h-1.60zM300.63,135.71h1.60v1.60h-1.60zM304.18,135.71h0.50v1.60h-0.50zM284.66,137.48h1.60v1.60h-1.60zM288.21,137.48h1.60v1.60h-1.60zM291.76,137.48h1.60v1.60h-1.60zM295.31,137.48h1.60v1.60h-1.60zM298.86,137.48h1.60v1.60h-1.60zM302.41,137.48h1.60v1.60h-1.60zM286.43,139.26h1.60v1.60h-1.60zM289.98,139.26h1.60v1.60h-1.60zM293.53,139.26h1.60v1.60h-1.60zM297.08,139.26h1.60v1.60h-1.60zM300.63,139.26h1.60v1.60h-1.60zM304.18,139.26h0.50v1.60h-0.50zM284.66,141.03h1.60v1.60h-1.60zM288.21,141.03h1.60v1.60h-1.60zM291.76,141.03h1.60v1.60h-1.60zM295.31,141.03h1.60v1.60h-1.60zM298.86,141.03h1.60v1.60h-1.60zM302.41,141.03h1.60v1.60h-1.60zM286.43,142.81h1.60v1.60h-1.60zM289.98,142.81h1.60v1.60h-1.60zM293.53,142.81h1.60v1.60h-1.60zM297.08,142.81h1.60v1.60h-1.60zM300.63,142.81h1.60v1.60h-1.60zM304.18,142.81h0.50v1.60h-0.50zM284.66,144.58h1.60v1.60h-1.60zM288.21,144.58h1.60v1.60h-1.60zM291.76,144.58h1.60v1.60h-1.60zM295.31,144.58h1.60v1.60h-1.60zM298.86,144.58h1.60v1.60h-1.60zM302.41,144.58h1.60v1.60h-1.60zM286.43,146.36h1.60v1.60h-1.60zM289.98,146.36h1.60v1.60h-1.60zM293.53,146.36h1.60v1.60h-1.60zM297.08,146.36h1.60v1.60h-1.60zM300.63,146.36h1.60v1.60h-1.60zM304.18,146.36h0.50v1.60h-0.50zM284.66,148.13h1.60v1.60h-1.60zM288.21,148.13h1.60v1.60h-1.60zM291.76,148.13h1.60v1.60h-1.60zM295.31,148.13h1.60v1.60h-1.60zM298.86,148.13h1.60v1.60h-1.60zM302.41,148.13h1.60v1.60h-1.60zM286.43,149.91h1.60v1.60h-1.60zM289.98,149.91h1.60v1.60h-1.60zM293.53,149.91h1.60v1.60h-1.60zM297.08,149.91h1.60v1.60h-1.60zM300.63,149.91h1.60v1.60h-1.60zM304.18,149.91h0.50v1.60h-0.50zM284.66,151.68h1.60v1.60h-1.60zM288.21,151.68h1.60v1.60h-1.60zM291.76,151.68h1.60v1.60h-1.60zM295.31,151.68h1.60v1.60h-1.60zM298.86,151.68h1.60v1.60h-1.60zM302.41,151.68h1.60v1.60h-1.60zM286.43,153.46h1.60v1.60h-1.60zM289.98,153.46h1.60v1.60h-1.60zM293.53,153.46h1.60v1.60h-1.60zM297.08,153.46h1.60v1.60h-1.60zM300.63,153.46h1.60v1.60h-1.60zM304.18,153.46h0.50v1.60h-0.50zM284.66,155.23h1.60v1.60h-1.60zM288.21,155.23h1.60v1.60h-1.60zM291.76,155.23h1.60v1.60h-1.60zM295.31,155.23h1.60v1.60h-1.60zM298.86,155.23h1.60v1.60h-1.60zM302.41,155.23h1.60v1.60h-1.60zM286.43,157.01h1.60v1.60h-1.60zM289.98,157.01h1.60v1.60h-1.60zM293.53,157.01h1.60v1.60h-1.60zM297.08,157.01h1.60v1.60h-1.60zM300.63,157.01h1.60v1.60h-1.60zM304.18,157.01h0.50v1.60h-0.50zM284.66,158.78h1.60v1.60h-1.60zM288.21,158.78h1.60v1.60h-1.60zM291.76,158.78h1.60v1.60h-1.60zM295.31,158.78h1.60v1.60h-1.60zM298.86,158.78h1.60v1.60h-1.60zM302.41,158.78h1.60v1.60h-1.60zM286.43,160.56h1.60v1.60h-1.60zM289.98,160.56h1.60v1.60h-1.60zM293.53,160.56h1.60v1.60h-1.60zM297.08,160.56h1.60v1.60h-1.60zM300.63,160.56h1.60v1.60h-1.60zM304.18,160.56h0.50v1.60h-0.50zM284.66,162.33h1.60v1.60h-1.60zM288.21,162.33h1.60v1.60h-1.60zM291.76,162.33h1.60v1.60h-1.60zM295.31,162.33h1.60v1.60h-1.60zM298.86,162.33h1.60v1.60h-1.60zM302.41,162.33h1.60v1.60h-1.60zM286.43,164.11h1.60v1.60h-1.60zM289.98,164.11h1.60v1.60h-1.60zM293.53,164.11h1.60v1.60h-1.60zM297.08,164.11h1.60v1.60h-1.60zM300.63,164.11h1.60v1.60h-1.60zM304.18,164.11h0.50v1.60h-0.50zM284.66,165.88h1.60v1.60h-1.60zM288.21,165.88h1.60v1.60h-1.60zM291.76,165.88h1.60v1.60h-1.60zM295.31,165.88h1.60v1.60h-1.60zM298.86,165.88h1.60v1.60h-1.60zM302.41,165.88h1.60v1.60h-1.60zM286.43,167.66h1.60v1.60h-1.60zM289.98,167.66h1.60v1.60h-1.60zM293.53,167.66h1.60v1.60h-1.60zM297.08,167.66h1.60v1.60h-1.60zM300.63,167.66h1.60v1.60h-1.60zM304.18,167.66h0.50v1.60h-0.50zM284.66,169.43h1.60v1.60h-1.60zM288.21,169.43h1.60v1.60h-1.60zM291.76,169.43h1.60v1.60h-1.60zM295.31,169.43h1.60v1.60h-1.60zM298.86,169.43h1.60v1.60h-1.60zM302.41,169.43h1.60v1.60h-1.60zM286.43,171.21h1.60v1.60h-1.60zM289.98,171.21h1.60v1.60h-1.60zM293.53,171.21h1.60v1.60h-1.60zM297.08,171.21h1.60v1.60h-1.60zM300.63,171.21h1.60v1.60h-1.60zM304.18,171.21h0.50v1.60h-0.50zM284.66,172.98h1.60v1.60h-1.60zM288.21,172.98h1.60v1.60h-1.60zM291.76,172.98h1.60v1.60h-1.60zM295.31,172.98h1.60v1.60h-1.60zM298.86,172.98h1.60v1.60h-1.60zM302.41,172.98h1.60v1.60h-1.60zM286.43,174.76h1.60v1.60h-1.60zM289.98,174.76h1.60v1.60h-1.60zM293.53,174.76h1.60v1.60h-1.60zM297.08,174.76h1.60v1.60h-1.60zM300.63,174.76h1.60v1.60h-1.60zM304.18,174.76h0.50v1.60h-0.50zM284.66,176.53h1.60v1.60h-1.60zM288.21,176.53h1.60v1.60h-1.60zM291.76,176.53h1.60v1.60h-1.60zM295.31,176.53h1.60v1.60h-1.60zM298.86,176.53h1.60v1.60h-1.60zM302.41,176.53h1.60v1.60h-1.60zM286.43,178.31h1.60v0.99h-1.60zM289.98,178.31h1.60v0.99h-1.60zM293.53,178.31h1.60v0.99h-1.60zM297.08,178.31h1.60v0.99h-1.60zM300.63,178.31h1.60v0.99h-1.60zM304.18,178.31h0.50v0.99h-0.50z" fill="#000" fill-opacity="0.68"/>
<rect x="284.46" y="126.53" width="20.22" height="52.77" fill="none" stroke="#3a3a3a" stroke-width="0.6"/>
<rect x="310.89" y="81.75" width="20.22" height="97.55" fill="url(#g4)"/>
<path d="M310.89,82.50H331.11M310.89,85.50H331.11M310.89,87.50H331.11M310.89,90.50H331.11M310.89,92.50H331.11M310.89,95.50H331.11M310.89,97.50H331.11M310.89,100.50H331.11M310.89,102.50H331.11M310.89,105.50H331.11M310.89,107.50H331.11M310.89,110.50H331.11M310.89,112.50H331.11M310.89,115.50H331.11M310.89,117.50H331.11M310.89,120.50H331.11M310.89,122.50H331.11M310.89,125.50H331.11M310.89,127.50H331.11M310.89,130.50H331.11M310.89,132.50H331.11M310.89,135.50H331.11M310.89,137.50H331.11M310.89,140.50H331.11M310.89,142.50H331.11M310.89,145.50H331.11M310.89,147.50H331.11M310.89,150.50H331.11M310.89,152.50H331.11M310.89,155.50H331.11M310.89,157.50H331.11M310.89,160.50H331.11M310.89,162.50H331.11M310.89,165.50H331.11M310.89,167.50H331.11M310.89,170.50H331.11M310.89,172.50H331.11M310.89,175.50H331.11M310.89,177.50H331.11" stroke="#000" stroke-opacity="0.55" stroke-width="0.6" fill="none"/><path d="M312.50,81.75V179.30M315.50,81.75V179.30M317.50,81.75V179.30M320.50,81.75V179.30M322.50,81.75V179.30M325.50,81.75V179.30M327.50,81.75V179.30M330.50,81.75V179.30" stroke="#000" stroke-opacity="0.55" stroke-width="0.6" fill="none"/>
<rect x="310.89" y="81.75" width="20.22" height="97.55" fill="none" stroke="#3a3a3a" stroke-width="0.6"/>
<rect x="337.32" y="126.53" width="20.22" height="52.77" fill="url(#g5)"/>

<rect x="337.32" y="126.53" width="20.22" height="52.77" fill="none" stroke="#3a3a3a" stroke-width="0.6"/>
<path d="M215.27,107.49 L241.70,118.81 L268.13,63.21 L294.57,126.53 L321.00,81.75 L347.43,126.53" fill="none" stroke="#222" stroke-width="0.9"/>
<circle cx="215.27" cy="107.49" r="1.35" fill="#111"/>
<circle cx="241.70" cy="118.81" r="1.35" fill="#111"/>
<circle cx="268.13" cy="63.21" r="1.35" fill="#111"/>
<circle cx="294.57" cy="126.53" r="1.35" fill="#111"/>
<circle cx="321.00" cy="81.75" r="1.35" fill="#111"/>
<circle cx="347.43" cy="126.53" r="1.35" fill="#111"/>
<g font-size="6.8" fill="#3c3c3c" stroke="#3c3c3c" stroke-width="0.1"><text transform="translate(209.55,100.30) scale(0.82,1)" text-anchor="middle">2</text><text transform="translate(212.50,100.30) scale(0.82,1)" text-anchor="middle">4</text><text transform="translate(215.00,100.30) scale(0.82,1)" text-anchor="middle">.</text><text transform="translate(218.50,100.30) scale(0.82,1)" text-anchor="middle">7</text><text transform="translate(221.45,100.30) scale(0.82,1)" text-anchor="middle">9</text></g>
<g font-size="6.8" fill="#3c3c3c" stroke="#3c3c3c" stroke-width="0.1"><text transform="translate(231.85,111.60) scale(0.82,1)" text-anchor="middle">2</text><text transform="translate(234.80,111.60) scale(0.82,1)" text-anchor="middle">4</text><text transform="translate(237.30,111.60) scale(0.82,1)" text-anchor="middle">.</text><text transform="translate(240.80,111.60) scale(0.82,1)" text-anchor="middle">3</text><text transform="translate(243.75,111.60) scale(0.82,1)" text-anchor="middle">5</text></g>
<g font-size="6.8" fill="#3c3c3c" stroke="#3c3c3c" stroke-width="0.1"><text transform="translate(261.45,58.40) scale(0.82,1)" text-anchor="middle">2</text><text transform="translate(264.40,58.40) scale(0.82,1)" text-anchor="middle">6</text><text transform="translate(266.90,58.40) scale(0.82,1)" text-anchor="middle">.</text><text transform="translate(270.40,58.40) scale(0.82,1)" text-anchor="middle">5</text><text transform="translate(273.35,58.40) scale(0.82,1)" text-anchor="middle">1</text></g>
<g font-size="6.8" fill="#3c3c3c" stroke="#3c3c3c" stroke-width="0.1"><text transform="translate(289.55,112.20) scale(0.82,1)" text-anchor="middle">2</text><text transform="translate(292.50,112.20) scale(0.82,1)" text-anchor="middle">4</text><text transform="translate(295.00,112.20) scale(0.82,1)" text-anchor="middle">.</text><text transform="translate(298.50,112.20) scale(0.82,1)" text-anchor="middle">0</text><text transform="translate(301.45,112.20) scale(0.82,1)" text-anchor="middle">5</text></g>
<g font-size="6.8" fill="#3c3c3c" stroke="#3c3c3c" stroke-width="0.1"><text transform="translate(314.65,77.90) scale(0.82,1)" text-anchor="middle">2</text><text transform="translate(317.60,77.90) scale(0.82,1)" text-anchor="middle">5</text><text transform="translate(320.10,77.90) scale(0.82,1)" text-anchor="middle">.</text><text transform="translate(323.60,77.90) scale(0.82,1)" text-anchor="middle">7</text><text transform="translate(326.55,77.90) scale(0.82,1)" text-anchor="middle">9</text></g>
<g font-size="6.8" fill="#3c3c3c" stroke="#3c3c3c" stroke-width="0.1"><text transform="translate(346.35,119.80) scale(0.82,1)" text-anchor="middle">2</text><text transform="translate(349.30,119.80) scale(0.82,1)" text-anchor="middle">4</text><text transform="translate(351.80,119.80) scale(0.82,1)" text-anchor="middle">.</text><text transform="translate(355.30,119.80) scale(0.82,1)" text-anchor="middle">0</text><text transform="translate(358.25,119.80) scale(0.82,1)" text-anchor="middle">5</text></g>
<path d="M201.9,50.6 H360.5 V179.3" fill="none" stroke="#6e6e6e" stroke-width="1.1"/>
<path d="M201.9,50.6 V179.3 H360.5" fill="none" stroke="#6e6e6e" stroke-width="1.1"/>
<line x1="199.3" y1="179.30" x2="201.9" y2="179.30" stroke="#555" stroke-width="0.9"/>
<text x="198.0" y="182.40" font-size="8.2" text-anchor="end" fill="#2a2a2a" stroke="#2a2a2a" stroke-width="0.08">22</text>
<line x1="199.3" y1="153.56" x2="201.9" y2="153.56" stroke="#555" stroke-width="0.9"/>
<text x="198.0" y="156.66" font-size="8.2" text-anchor="end" fill="#2a2a2a" stroke="#2a2a2a" stroke-width="0.08">23</text>
<line x1="199.3" y1="127.82" x2="201.9" y2="127.82" stroke="#555" stroke-width="0.9"/>
<text x="198.0" y="130.92" font-size="8.2" text-anchor="end" fill="#2a2a2a" stroke="#2a2a2a" stroke-width="0.08">24</text>
<line x1="199.3" y1="102.08" x2="201.9" y2="102.08" stroke="#555" stroke-width="0.9"/>
<text x="198.0" y="105.18" font-size="8.2" text-anchor="end" fill="#2a2a2a" stroke="#2a2a2a" stroke-width="0.08">25</text>
<line x1="199.3" y1="76.34" x2="201.9" y2="76.34" stroke="#555" stroke-width="0.9"/>
<text x="198.0" y="79.44" font-size="8.2" text-anchor="end" fill="#2a2a2a" stroke="#2a2a2a" stroke-width="0.08">26</text>
<line x1="199.3" y1="50.60" x2="201.9" y2="50.60" stroke="#555" stroke-width="0.9"/>
<text x="198.0" y="53.70" font-size="8.2" text-anchor="end" fill="#2a2a2a" stroke="#2a2a2a" stroke-width="0.08">27</text>
<text x="243.6" y="193.2" font-size="10" textLength="75.5" lengthAdjust="spacingAndGlyphs" fill="#111" stroke="#111" stroke-width="0.25">RMSE on PEMS08</text>
<line x1="388.4" y1="147.18" x2="544.8" y2="147.18" stroke="#e2e2e2" stroke-width="0.8"/>
<line x1="388.4" y1="115.05" x2="544.8" y2="115.05" stroke="#e2e2e2" stroke-width="0.8"/>
<line x1="388.4" y1="82.93" x2="544.8" y2="82.93" stroke="#e2e2e2" stroke-width="0.8"/>
<rect x="390.65" y="89.67" width="20.20" height="89.63" fill="url(#g0)"/>
<path d="M390.65,92.35L393.33,89.67M390.65,95.35L396.33,89.67M390.65,98.35L399.33,89.67M390.65,101.35L402.33,89.67M390.65,104.35L405.33,89.67M390.65,107.35L408.33,89.67M390.65,110.35L410.85,90.15M390.65,113.35L410.85,93.15M390.65,116.35L410.85,96.15M390.65,119.35L410.85,99.15M390.65,122.35L410.85,102.15M390.65,125.35L410.85,105.15M390.65,128.35L410.85,108.15M390.65,131.35L410.85,111.15M390.65,134.35L410.85,114.15M390.65,137.35L410.85,117.15M390.65,140.35L410.85,120.15M390.65,143.35L410.85,123.15M390.65,146.35L410.85,126.15M390.65,149.35L410.85,129.15M390.65,152.35L410.85,132.15M390.65,155.35L410.85,135.15M390.65,158.35L410.85,138.15M390.65,161.35L410.85,141.15M390.65,164.35L410.85,144.15M390.65,167.35L410.85,147.15M390.65,170.35L410.85,150.15M390.65,173.35L410.85,153.15M390.65,176.35L410.85,156.15M390.70,179.30L410.85,159.15M393.70,179.30L410.85,162.15M396.70,179.30L410.85,165.15M399.70,179.30L410.85,168.15M402.70,179.30L410.85,171.15M405.70,179.30L410.85,174.15M408.70,179.30L410.85,177.15" stroke="#000" stroke-opacity="0.58" stroke-width="0.9" fill="none"/>
<rect x="390.65" y="89.67" width="20.20" height="89.63" fill="none" stroke="#3a3a3a" stroke-width="0.6"/>
<rect x="417.05" y="114.09" width="20.20" height="65.21" fill="url(#g1)"/>
<path d="M417.05,177.05L419.30,179.30M417.05,174.05L422.30,179.30M417.05,171.05L425.30,179.30M417.05,168.05L428.30,179.30M417.05,165.05L431.30,179.30M417.05,162.05L434.30,179.30M417.05,159.05L437.25,179.25M417.05,156.05L437.25,176.25M417.05,153.05L437.25,173.25M417.05,150.05L437.25,170.25M417.05,147.05L437.25,167.25M417.05,144.05L437.25,164.25M417.05,141.05L437.25,161.25M417.05,138.05L437.25,158.25M417.05,135.05L437.25,155.25M417.05,132.05L437.25,152.25M417.05,129.05L437.25,149.25M417.05,126.05L437.25,146.25M417.05,123.05L437.25,143.25M417.05,120.05L437.25,140.25M417.05,117.05L437.25,137.25M417.09,114.09L437.25,134.25M420.09,114.09L437.25,131.25M423.09,114.09L437.25,128.25M426.09,114.09L437.25,125.25M429.09,114.09L437.25,122.25M432.09,114.09L437.25,119.25M435.09,114.09L437.25,116.25" stroke="#000" stroke-opacity="0.62" stroke-width="0.9" fill="none"/>
<rect x="417.05" y="114.09" width="20.20" height="65.21" fill="none" stroke="#3a3a3a" stroke-width="0.6"/>
<rect x="443.45" y="88.71" width="20.20" height="90.59" fill="url(#g2)"/>
<path d="M443.45,91.50H463.65M443.45,94.50H463.65M443.45,96.50H463.65M443.45,99.50H463.65M443.45,102.50H463.65M443.45,105.50H463.65M443.45,108.50H463.65M443.45,111.50H463.65M443.45,114.50H463.65M443.45,116.50H463.65M443.45,119.50H463.65M443.45,122.50H463.65M443.45,125.50H463.65M443.45,128.50H463.65M443.45,131.50H463.65M443.45,133.50H463.65M443.45,136.50H463.65M443.45,139.50H463.65M443.45,142.50H463.65M443.45,145.50H463.65M443.45,148.50H463.65M443.45,151.50H463.65M443.45,153.50H463.65M443.45,156.50H463.65M443.45,159.50H463.65M443.45,162.50H463.65M443.45,165.50H463.65M443.45,168.50H463.65M443.45,171.50H463.65M443.45,173.50H463.65M443.45,176.50H463.65" stroke="#000" stroke-opacity="0.5" stroke-width="0.8" fill="none"/>
<rect x="443.45" y="88.71" width="20.20" height="90.59" fill="none" stroke="#3a3a3a" stroke-width="0.6"/>
<rect x="469.85" y="108.63" width="20.20" height="70.67" fill="url(#g3)"/>
<path d="M470.05,108.93h1.60v1.60h-1.60zM473.60,108.93h1.60v1.60h-1.60zM477.15,108.93h1.60v1.60h-1.60zM480.70,108.93h1.60v1.60h-1.60zM484.25,108.93h1.60v1.60h-1.60zM487.80,108.93h1.60v1.60h-1.60zM471.83,110.70h1.60v1.60h-1.60zM475.38,110.70h1.60v1.60h-1.60zM478.93,110.70h1.60v1.60h-1.60zM482.48,110.70h1.60v1.60h-1.60zM486.03,110.70h1.60v1.60h-1.60zM489.58,110.70h0.47v1.60h-0.47zM470.05,112.48h1.60v1.60h-1.60zM473.60,112.48h1.60v1.60h-1.60zM477.15,112.48h1.60v1.60h-1.60zM480.70,112.48h1.60v1.60h-1.60zM484.25,112.48h1.60v1.60h-1.60zM487.80,112.48h1.60v1.60h-1.60zM471.83,114.25h1.60v1.60h-1.60zM475.38,114.25h1.60v1.60h-1.60zM478.93,114.25h1.60v1.60h-1.60zM482.48,114.25h1.60v1.60h-1.60zM486.03,114.25h1.60v1.60h-1.60zM489.58,114.25h0.47v1.60h-0.47zM470.05,116.03h1.60v1.60h-1.60zM473.60,116.03h1.60v1.60h-1.60zM477.15,116.03h1.60v1.60h-1.60zM480.70,116.03h1.60v1.60h-1.60zM484.25,116.03h1.60v1.60h-1.60zM487.80,116.03h1.60v1.60h-1.60zM471.83,117.80h1.60v1.60h-1.60zM475.38,117.80h1.60v1.60h-1.60zM478.93,117.80h1.60v1.60h-1.60zM482.48,117.80h1.60v1.60h-1.60zM486.03,117.80h1.60v1.60h-1.60zM489.58,117.80h0.47v1.60h-0.47zM470.05,119.58h1.60v1.60h-1.60zM473.60,119.58h1.60v1.60h-1.60zM477.15,119.58h1.60v1.60h-1.60zM480.70,119.58h1.60v1.60h-1.60zM484.25,119.58h1.60v1.60h-1.60zM487.80,119.58h1.60v1.60h-1.60zM471.83,121.35h1.60v1.60h-1.60zM475.38,121.35h1.60v1.60h-1.60zM478.93,121.35h1.60v1.60h-1.60zM482.48,121.35h1.60v1.60h-1.60zM486.03,121.35h1.60v1.60h-1.60zM489.58,121.35h0.47v1.60h-0.47zM470.05,123.13h1.60v1.60h-1.60zM473.60,123.13h1.60v1.60h-1.60zM477.15,123.13h1.60v1.60h-1.60zM480.70,123.13h1.60v1.60h-1.60zM484.25,123.13h1.60v1.60h-1.60zM487.80,123.13h1.60v1.60h-1.60zM471.83,124.90h1.60v1.60h-1.60zM475.38,124.90h1.60v1.60h-1.60zM478.93,124.90h1.60v1.60h-1.60zM482.48,124.90h1.60v1.60h-1.60zM486.03,124.90h1.60v1.60h-1.60zM489.58,124.90h0.47v1.60h-0.47zM470.05,126.68h1.60v1.60h-1.60zM473.60,126.68h1.60v1.60h-1.60zM477.15,126.68h1.60v1.60h-1.60zM480.70,126.68h1.60v1.60h-1.60zM484.25,126.68h1.60v1.60h-1.60zM487.80,126.68h1.60v1.60h-1.60zM471.83,128.45h1.60v1.60h-1.60zM475.38,128.45h1.60v1.60h-1.60zM478.93,128.45h1.60v1.60h-1.60zM482.48,128.45h1.60v1.60h-1.60zM486.03,128.45h1.60v1.60h-1.60zM489.58,128.45h0.47v1.60h-0.47zM470.05,130.23h1.60v1.60h-1.60zM473.60,130.23h1.60v1.60h-1.60zM477.15,130.23h1.60v1.60h-1.60zM480.70,130.23h1.60v1.60h-1.60zM484.25,130.23h1.60v1.60h-1.60zM487.80,130.23h1.60v1.60h-1.60zM471.83,132.00h1.60v1.60h-1.60zM475.38,132.00h1.60v1.60h-1.60zM478.93,132.00h1.60v1.60h-1.60zM482.48,132.00h1.60v1.60h-1.60zM486.03,132.00h1.60v1.60h-1.60zM489.58,132.00h0.47v1.60h-0.47zM470.05,133.78h1.60v1.60h-1.60zM473.60,133.78h1.60v1.60h-1.60zM477.15,133.78h1.60v1.60h-1.60zM480.70,133.78h1.60v1.60h-1.60zM484.25,133.78h1.60v1.60h-1.60zM487.80,133.78h1.60v1.60h-1.60zM471.83,135.55h1.60v1.60h-1.60zM475.38,135.55h1.60v1.60h-1.60zM478.93,135.55h1.60v1.60h-1.60zM482.48,135.55h1.60v1.60h-1.60zM486.03,135.55h1.60v1.60h-1.60zM489.58,135.55h0.47v1.60h-0.47zM470.05,137.33h1.60v1.60h-1.60zM473.60,137.33h1.60v1.60h-1.60zM477.15,137.33h1.60v1.60h-1.60zM480.70,137.33h1.60v1.60h-1.60zM484.25,137.33h1.60v1.60h-1.60zM487.80,137.33h1.60v1.60h-1.60zM471.83,139.10h1.60v1.60h-1.60zM475.38,139.10h1.60v1.60h-1.60zM478.93,139.10h1.60v1.60h-1.60zM482.48,139.10h1.60v1.60h-1.60zM486.03,139.10h1.60v1.60h-1.60zM489.58,139.10h0.47v1.60h-0.47zM470.05,140.88h1.60v1.60h-1.60zM473.60,140.88h1.60v1.60h-1.60zM477.15,140.88h1.60v1.60h-1.60zM480.70,140.88h1.60v1.60h-1.60zM484.25,140.88h1.60v1.60h-1.60zM487.80,140.88h1.60v1.60h-1.60zM471.83,142.65h1.60v1.60h-1.60zM475.38,142.65h1.60v1.60h-1.60zM478.93,142.65h1.60v1.60h-1.60zM482.48,142.65h1.60v1.60h-1.60zM486.03,142.65h1.60v1.60h-1.60zM489.58,142.65h0.47v1.60h-0.47zM470.05,144.43h1.60v1.60h-1.60zM473.60,144.43h1.60v1.60h-1.60zM477.15,144.43h1.60v1.60h-1.60zM480.70,144.43h1.60v1.60h-1.60zM484.25,144.43h1.60v1.60h-1.60zM487.80,144.43h1.60v1.60h-1.60zM471.83,146.20h1.60v1.60h-1.60zM475.38,146.20h1.60v1.60h-1.60zM478.93,146.20h1.60v1.60h-1.60zM482.48,146.20h1.60v1.60h-1.60zM486.03,146.20h1.60v1.60h-1.60zM489.58,146.20h0.47v1.60h-0.47zM470.05,147.98h1.60v1.60h-1.60zM473.60,147.98h1.60v1.60h-1.60zM477.15,147.98h1.60v1.60h-1.60zM480.70,147.98h1.60v1.60h-1.60zM484.25,147.98h1.60v1.60h-1.60zM487.80,147.98h1.60v1.60h-1.60zM471.83,149.75h1.60v1.60h-1.60zM475.38,149.75h1.60v1.60h-1.60zM478.93,149.75h1.60v1.60h-1.60zM482.48,149.75h1.60v1.60h-1.60zM486.03,149.75h1.60v1.60h-1.60zM489.58,149.75h0.47v1.60h-0.47zM470.05,151.53h1.60v1.60h-1.60zM473.60,151.53h1.60v1.60h-1.60zM477.15,151.53h1.60v1.60h-1.60zM480.70,151.53h1.60v1.60h-1.60zM484.25,151.53h1.60v1.60h-1.60zM487.80,151.53h1.60v1.60h-1.60zM471.83,153.30h1.60v1.60h-1.60zM475.38,153.30h1.60v1.60h-1.60zM478.93,153.30h1.60v1.60h-1.60zM482.48,153.30h1.60v1.60h-1.60zM486.03,153.30h1.60v1.60h-1.60zM489.58,153.30h0.47v1.60h-0.47zM470.05,155.08h1.60v1.60h-1.60zM473.60,155.08h1.60v1.60h-1.60zM477.15,155.08h1.60v1.60h-1.60zM480.70,155.08h1.60v1.60h-1.60zM484.25,155.08h1.60v1.60h-1.60zM487.80,155.08h1.60v1.60h-1.60zM471.83,156.85h1.60v1.60h-1.60zM475.38,156.85h1.60v1.60h-1.60zM478.93,156.85h1.60v1.60h-1.60zM482.48,156.85h1.60v1.60h-1.60zM486.03,156.85h1.60v1.60h-1.60zM489.58,156.85h0.47v1.60h-0.47zM470.05,158.63h1.60v1.60h-1.60zM473.60,158.63h1.60v1.60h-1.60zM477.15,158.63h1.60v1.60h-1.60zM480.70,158.63h1.60v1.60h-1.60zM484.25,158.63h1.60v1.60h-1.60zM487.80,158.63h1.60v1.60h-1.60zM471.83,160.40h1.60v1.60h-1.60zM475.38,160.40h1.60v1.60h-1.60zM478.93,160.40h1.60v1.60h-1.60zM482.48,160.40h1.60v1.60h-1.60zM486.03,160.40h1.60v1.60h-1.60zM489.58,160.40h0.47v1.60h-0.47zM470.05,162.18h1.60v1.60h-1.60zM473.60,162.18h1.60v1.60h-1.60zM477.15,162.18h1.60v1.60h-1.60zM480.70,162.18h1.60v1.60h-1.60zM484.25,162.18h1.60v1.60h-1.60zM487.80,162.18h1.60v1.60h-1.60zM471.83,163.95h1.60v1.60h-1.60zM475.38,163.95h1.60v1.60h-1.60zM478.93,163.95h1.60v1.60h-1.60zM482.48,163.95h1.60v1.60h-1.60zM486.03,163.95h1.60v1.60h-1.60zM489.58,163.95h0.47v1.60h-0.47zM470.05,165.73h1.60v1.60h-1.60zM473.60,165.73h1.60v1.60h-1.60zM477.15,165.73h1.60v1.60h-1.60zM480.70,165.73h1.60v1.60h-1.60zM484.25,165.73h1.60v1.60h-1.60zM487.80,165.73h1.60v1.60h-1.60zM471.83,167.50h1.60v1.60h-1.60zM475.38,167.50h1.60v1.60h-1.60zM478.93,167.50h1.60v1.60h-1.60zM482.48,167.50h1.60v1.60h-1.60zM486.03,167.50h1.60v1.60h-1.60zM489.58,167.50h0.47v1.60h-0.47zM470.05,169.28h1.60v1.60h-1.60zM473.60,169.28h1.60v1.60h-1.60zM477.15,169.28h1.60v1.60h-1.60zM480.70,169.28h1.60v1.60h-1.60zM484.25,169.28h1.60v1.60h-1.60zM487.80,169.28h1.60v1.60h-1.60zM471.83,171.05h1.60v1.60h-1.60zM475.38,171.05h1.60v1.60h-1.60zM478.93,171.05h1.60v1.60h-1.60zM482.48,171.05h1.60v1.60h-1.60zM486.03,171.05h1.60v1.60h-1.60zM489.58,171.05h0.47v1.60h-0.47zM470.05,172.83h1.60v1.60h-1.60zM473.60,172.83h1.60v1.60h-1.60zM477.15,172.83h1.60v1.60h-1.60zM480.70,172.83h1.60v1.60h-1.60zM484.25,172.83h1.60v1.60h-1.60zM487.80,172.83h1.60v1.60h-1.60zM471.83,174.60h1.60v1.60h-1.60zM475.38,174.60h1.60v1.60h-1.60zM478.93,174.60h1.60v1.60h-1.60zM482.48,174.60h1.60v1.60h-1.60zM486.03,174.60h1.60v1.60h-1.60zM489.58,174.60h0.47v1.60h-0.47zM470.05,176.38h1.60v1.60h-1.60zM473.60,176.38h1.60v1.60h-1.60zM477.15,176.38h1.60v1.60h-1.60zM480.70,176.38h1.60v1.60h-1.60zM484.25,176.38h1.60v1.60h-1.60zM487.80,176.38h1.60v1.60h-1.60zM471.83,178.15h1.60v1.15h-1.60zM475.38,178.15h1.60v1.15h-1.60zM478.93,178.15h1.60v1.15h-1.60zM482.48,178.15h1.60v1.15h-1.60zM486.03,178.15h1.60v1.15h-1.60zM489.58,178.15h0.47v1.15h-0.47z" fill="#000" fill-opacity="0.68"/>
<rect x="469.85" y="108.63" width="20.20" height="70.67" fill="none" stroke="#3a3a3a" stroke-width="0.6"/>
<rect x="496.25" y="75.54" width="20.20" height="103.76" fill="url(#g4)"/>
<path d="M496.25,77.50H516.45M496.25,80.50H516.45M496.25,82.50H516.45M496.25,85.50H516.45M496.25,87.50H516.45M496.25,90.50H516.45M496.25,92.50H516.45M496.25,95.50H516.45M496.25,97.50H516.45M496.25,100.50H516.45M496.25,102.50H516.45M496.25,105.50H516.45M496.25,107.50H516.45M496.25,110.50H516.45M496.25,112.50H516.45M496.25,115.50H516.45M496.25,117.50H516.45M496.25,120.50H516.45M496.25,122.50H516.45M496.25,125.50H516.45M496.25,127.50H516.45M496.25,130.50H516.45M496.25,132.50H516.45M496.25,135.50H516.45M496.25,137.50H516.45M496.25,140.50H516.45M496.25,142.50H516.45M496.25,145.50H516.45M496.25,147.50H516.45M496.25,150.50H516.45M496.25,152.50H516.45M496.25,155.50H516.45M496.25,157.50H516.45M496.25,160.50H516.45M496.25,162.50H516.45M496.25,165.50H516.45M496.25,167.50H516.45M496.25,170.50H516.45M496.25,172.50H516.45M496.25,175.50H516.45M496.25,177.50H516.45" stroke="#000" stroke-opacity="0.55" stroke-width="0.6" fill="none"/><path d="M497.50,75.54V179.30M500.50,75.54V179.30M502.50,75.54V179.30M505.50,75.54V179.30M507.50,75.54V179.30M510.50,75.54V179.30M512.50,75.54V179.30M515.50,75.54V179.30" stroke="#000" stroke-opacity="0.55" stroke-width="0.6" fill="none"/>
<rect x="496.25" y="75.54" width="20.20" height="103.76" fill="none" stroke="#3a3a3a" stroke-width="0.6"/>
<rect x="522.65" y="119.55" width="20.20" height="59.75" fill="url(#g5)"/>

<rect x="522.65" y="119.55" width="20.20" height="59.75" fill="none" stroke="#3a3a3a" stroke-width="0.6"/>
<path d="M400.75,89.67 L427.15,114.09 L453.55,88.71 L479.95,108.63 L506.35,75.54 L532.75,119.55" fill="none" stroke="#222" stroke-width="0.9"/>
<circle cx="400.75" cy="89.67" r="1.35" fill="#111"/>
<circle cx="427.15" cy="114.09" r="1.35" fill="#111"/>
<circle cx="453.55" cy="88.71" r="1.35" fill="#111"/>
<circle cx="479.95" cy="108.63" r="1.35" fill="#111"/>
<circle cx="506.35" cy="75.54" r="1.35" fill="#111"/>
<circle cx="532.75" cy="119.55" r="1.35" fill="#111"/>
<g font-size="6.8" fill="#3c3c3c" stroke="#3c3c3c" stroke-width="0.1"><text transform="translate(394.55,86.70) scale(0.82,1)" text-anchor="middle">1</text><text transform="translate(397.50,86.70) scale(0.82,1)" text-anchor="middle">0</text><text transform="translate(400.00,86.70) scale(0.82,1)" text-anchor="middle">.</text><text transform="translate(403.50,86.70) scale(0.82,1)" text-anchor="middle">7</text><text transform="translate(406.45,86.70) scale(0.82,1)" text-anchor="middle">9</text></g>
<g font-size="6.8" fill="#3c3c3c" stroke="#3c3c3c" stroke-width="0.1"><text transform="translate(420.45,107.40) scale(0.82,1)" text-anchor="middle">1</text><text transform="translate(423.40,107.40) scale(0.82,1)" text-anchor="middle">0</text><text transform="translate(425.90,107.40) scale(0.82,1)" text-anchor="middle">.</text><text transform="translate(429.40,107.40) scale(0.82,1)" text-anchor="middle">0</text><text transform="translate(432.35,107.40) scale(0.82,1)" text-anchor="middle">3</text></g>
<g font-size="6.8" fill="#3c3c3c" stroke="#3c3c3c" stroke-width="0.1"><text transform="translate(447.45,86.10) scale(0.82,1)" text-anchor="middle">1</text><text transform="translate(450.40,86.10) scale(0.82,1)" text-anchor="middle">0</text><text transform="translate(452.90,86.10) scale(0.82,1)" text-anchor="middle">.</text><text transform="translate(456.40,86.10) scale(0.82,1)" text-anchor="middle">8</text><text transform="translate(459.35,86.10) scale(0.82,1)" text-anchor="middle">2</text></g>
<g font-size="6.8" fill="#3c3c3c" stroke="#3c3c3c" stroke-width="0.1"><text transform="translate(474.72,102.10) scale(0.82,1)" text-anchor="middle">1</text><text transform="translate(477.67,102.10) scale(0.82,1)" text-anchor="middle">0</text><text transform="translate(480.17,102.10) scale(0.82,1)" text-anchor="middle">.</text><text transform="translate(483.67,102.10) scale(0.82,1)" text-anchor="middle">2</text></g>
<g font-size="6.8" fill="#3c3c3c" stroke="#3c3c3c" stroke-width="0.1"><text transform="translate(499.95,72.00) scale(0.82,1)" text-anchor="middle">1</text><text transform="translate(502.90,72.00) scale(0.82,1)" text-anchor="middle">1</text><text transform="translate(505.40,72.00) scale(0.82,1)" text-anchor="middle">.</text><text transform="translate(508.90,72.00) scale(0.82,1)" text-anchor="middle">2</text><text transform="translate(511.85,72.00) scale(0.82,1)" text-anchor="middle">3</text></g>
<g font-size="6.8" fill="#3c3c3c" stroke="#3c3c3c" stroke-width="0.1"><text transform="translate(532.02,112.50) scale(0.82,1)" text-anchor="middle">9</text><text transform="translate(534.52,112.50) scale(0.82,1)" text-anchor="middle">.</text><text transform="translate(538.02,112.50) scale(0.82,1)" text-anchor="middle">8</text><text transform="translate(540.98,112.50) scale(0.82,1)" text-anchor="middle">6</text></g>
<path d="M387.4,50.8 H545.8 V179.3" fill="none" stroke="#6e6e6e" stroke-width="1.1"/>
<path d="M387.4,50.8 V179.3 H545.8" fill="none" stroke="#6e6e6e" stroke-width="1.1"/>
<line x1="384.79999999999995" y1="179.30" x2="387.4" y2="179.30" stroke="#555" stroke-width="0.9"/>
<text x="383.5" y="182.40" font-size="8.2" text-anchor="end" fill="#2a2a2a" stroke="#2a2a2a" stroke-width="0.08">8</text>
<line x1="384.79999999999995" y1="147.18" x2="387.4" y2="147.18" stroke="#555" stroke-width="0.9"/>
<text x="383.5" y="150.28" font-size="8.2" text-anchor="end" fill="#2a2a2a" stroke="#2a2a2a" stroke-width="0.08">9</text>
<line x1="384.79999999999995" y1="115.05" x2="387.4" y2="115.05" stroke="#555" stroke-width="0.9"/>
<text x="383.5" y="118.15" font-size="8.2" text-anchor="end" fill="#2a2a2a" stroke="#2a2a2a" stroke-width="0.08">10</text>
<line x1="384.79999999999995" y1="82.93" x2="387.4" y2="82.93" stroke="#555" stroke-width="0.9"/>
<text x="383.5" y="86.03" font-size="8.2" text-anchor="end" fill="#2a2a2a" stroke="#2a2a2a" stroke-width="0.08">11</text>
<line x1="384.79999999999995" y1="50.80" x2="387.4" y2="50.80" stroke="#555" stroke-width="0.9"/>
<text x="383.5" y="53.90" font-size="8.2" text-anchor="end" fill="#2a2a2a" stroke="#2a2a2a" stroke-width="0.08">12</text>
<text x="429.1" y="193.2" font-size="10" textLength="75.4" lengthAdjust="spacingAndGlyphs" fill="#111" stroke="#111" stroke-width="0.25">MAPE on PEMS08</text>
<line x1="15.0" y1="306.20" x2="171.4" y2="306.20" stroke="#e2e2e2" stroke-width="0.8"/>
<line x1="15.0" y1="274.00" x2="171.4" y2="274.00" stroke="#e2e2e2" stroke-width="0.8"/>
<line x1="15.0" y1="241.80" x2="171.4" y2="241.80" stroke="#e2e2e2" stroke-width="0.8"/>
<rect x="17.25" y="280.12" width="20.20" height="58.28" fill="url(#g0)"/>
<path d="M17.25,282.75L19.88,280.12M17.25,285.75L22.88,280.12M17.25,288.75L25.88,280.12M17.25,291.75L28.88,280.12M17.25,294.75L31.88,280.12M17.25,297.75L34.88,280.12M17.25,300.75L37.45,280.55M17.25,303.75L37.45,283.55M17.25,306.75L37.45,286.55M17.25,309.75L37.45,289.55M17.25,312.75L37.45,292.55M17.25,315.75L37.45,295.55M17.25,318.75L37.45,298.55M17.25,321.75L37.45,301.55M17.25,324.75L37.45,304.55M17.25,327.75L37.45,307.55M17.25,330.75L37.45,310.55M17.25,333.75L37.45,313.55M17.25,336.75L37.45,316.55M18.60,338.40L37.45,319.55M21.60,338.40L37.45,322.55M24.60,338.40L37.45,325.55M27.60,338.40L37.45,328.55M30.60,338.40L37.45,331.55M33.60,338.40L37.45,334.55M36.60,338.40L37.45,337.55" stroke="#000" stroke-opacity="0.58" stroke-width="0.9" fill="none"/>
<rect x="17.25" y="280.12" width="20.20" height="58.28" fill="none" stroke="#3a3a3a" stroke-width="0.6"/>
<rect x="43.65" y="296.86" width="20.20" height="41.54" fill="url(#g1)"/>
<path d="M43.65,337.65L44.40,338.40M43.65,334.65L47.40,338.40M43.65,331.65L50.40,338.40M43.65,328.65L53.40,338.40M43.65,325.65L56.40,338.40M43.65,322.65L59.40,338.40M43.65,319.65L62.40,338.40M43.65,316.65L63.85,336.85M43.65,313.65L63.85,333.85M43.65,310.65L63.85,330.85M43.65,307.65L63.85,327.85M43.65,304.65L63.85,324.85M43.65,301.65L63.85,321.85M43.65,298.65L63.85,318.85M44.86,296.86L63.85,315.85M47.86,296.86L63.85,312.85M50.86,296.86L63.85,309.85M53.86,296.86L63.85,306.85M56.86,296.86L63.85,303.85M59.86,296.86L63.85,300.85M62.86,296.86L63.85,297.85" stroke="#000" stroke-opacity="0.62" stroke-width="0.9" fill="none"/>
<rect x="43.65" y="296.86" width="20.20" height="41.54" fill="none" stroke="#3a3a3a" stroke-width="0.6"/>
<rect x="70.05" y="277.86" width="20.20" height="60.54" fill="url(#g2)"/>
<path d="M70.05,279.50H90.25M70.05,282.50H90.25M70.05,285.50H90.25M70.05,287.50H90.25M70.05,290.50H90.25M70.05,293.50H90.25M70.05,296.50H90.25M70.05,299.50H90.25M70.05,302.50H90.25M70.05,304.50H90.25M70.05,307.50H90.25M70.05,310.50H90.25M70.05,313.50H90.25M70.05,316.50H90.25M70.05,319.50H90.25M70.05,322.50H90.25M70.05,324.50H90.25M70.05,327.50H90.25M70.05,330.50H90.25M70.05,333.50H90.25M70.05,336.50H90.25" stroke="#000" stroke-opacity="0.5" stroke-width="0.8" fill="none"/>
<rect x="70.05" y="277.86" width="20.20" height="60.54" fill="none" stroke="#3a3a3a" stroke-width="0.6"/>
<rect x="96.45" y="301.05" width="20.20" height="37.35" fill="url(#g3)"/>
<path d="M96.65,301.35h1.60v1.60h-1.60zM100.20,301.35h1.60v1.60h-1.60zM103.75,301.35h1.60v1.60h-1.60zM107.30,301.35h1.60v1.60h-1.60zM110.85,301.35h1.60v1.60h-1.60zM114.40,301.35h1.60v1.60h-1.60zM98.43,303.12h1.60v1.60h-1.60zM101.98,303.12h1.60v1.60h-1.60zM105.53,303.12h1.60v1.60h-1.60zM109.08,303.12h1.60v1.60h-1.60zM112.63,303.12h1.60v1.60h-1.60zM116.18,303.12h0.47v1.60h-0.47zM96.65,304.90h1.60v1.60h-1.60zM100.20,304.90h1.60v1.60h-1.60zM103.75,304.90h1.60v1.60h-1.60zM107.30,304.90h1.60v1.60h-1.60zM110.85,304.90h1.60v1.60h-1.60zM114.40,304.90h1.60v1.60h-1.60zM98.43,306.67h1.60v1.60h-1.60zM101.98,306.67h1.60v1.60h-1.60zM105.53,306.67h1.60v1.60h-1.60zM109.08,306.67h1.60v1.60h-1.60zM112.63,306.67h1.60v1.60h-1.60zM116.18,306.67h0.47v1.60h-0.47zM96.65,308.45h1.60v1.60h-1.60zM100.20,308.45h1.60v1.60h-1.60zM103.75,308.45h1.60v1.60h-1.60zM107.30,308.45h1.60v1.60h-1.60zM110.85,308.45h1.60v1.60h-1.60zM114.40,308.45h1.60v1.60h-1.60zM98.43,310.22h1.60v1.60h-1.60zM101.98,310.22h1.60v1.60h-1.60zM105.53,310.22h1.60v1.60h-1.60zM109.08,310.22h1.60v1.60h-1.60zM112.63,310.22h1.60v1.60h-1.60zM116.18,310.22h0.47v1.60h-0.47zM96.65,312.00h1.60v1.60h-1.60zM100.20,312.00h1.60v1.60h-1.60zM103.75,312.00h1.60v1.60h-1.60zM107.30,312.00h1.60v1.60h-1.60zM110.85,312.00h1.60v1.60h-1.60zM114.40,312.00h1.60v1.60h-1.60zM98.43,313.77h1.60v1.60h-1.60zM101.98,313.77h1.60v1.60h-1.60zM105.53,313.77h1.60v1.60h-1.60zM109.08,313.77h1.60v1.60h-1.60zM112.63,313.77h1.60v1.60h-1.60zM116.18,313.77h0.47v1.60h-0.47zM96.65,315.55h1.60v1.60h-1.60zM100.20,315.55h1.60v1.60h-1.60zM103.75,315.55h1.60v1.60h-1.60zM107.30,315.55h1.60v1.60h-1.60zM110.85,315.55h1.60v1.60h-1.60zM114.40,315.55h1.60v1.60h-1.60zM98.43,317.32h1.60v1.60h-1.60zM101.98,317.32h1.60v1.60h-1.60zM105.53,317.32h1.60v1.60h-1.60zM109.08,317.32h1.60v1.60h-1.60zM112.63,317.32h1.60v1.60h-1.60zM116.18,317.32h0.47v1.60h-0.47zM96.65,319.10h1.60v1.60h-1.60zM100.20,319.10h1.60v1.60h-1.60zM103.75,319.10h1.60v1.60h-1.60zM107.30,319.10h1.60v1.60h-1.60zM110.85,319.10h1.60v1.60h-1.60zM114.40,319.10h1.60v1.60h-1.60zM98.43,320.87h1.60v1.60h-1.60zM101.98,320.87h1.60v1.60h-1.60zM105.53,320.87h1.60v1.60h-1.60zM109.08,320.87h1.60v1.60h-1.60zM112.63,320.87h1.60v1.60h-1.60zM116.18,320.87h0.47v1.60h-0.47zM96.65,322.65h1.60v1.60h-1.60zM100.20,322.65h1.60v1.60h-1.60zM103.75,322.65h1.60v1.60h-1.60zM107.30,322.65h1.60v1.60h-1.60zM110.85,322.65h1.60v1.60h-1.60zM114.40,322.65h1.60v1.60h-1.60zM98.43,324.42h1.60v1.60h-1.60zM101.98,324.42h1.60v1.60h-1.60zM105.53,324.42h1.60v1.60h-1.60zM109.08,324.42h1.60v1.60h-1.60zM112.63,324.42h1.60v1.60h-1.60zM116.18,324.42h0.47v1.60h-0.47zM96.65,326.20h1.60v1.60h-1.60zM100.20,326.20h1.60v1.60h-1.60zM103.75,326.20h1.60v1.60h-1.60zM107.30,326.20h1.60v1.60h-1.60zM110.85,326.20h1.60v1.60h-1.60zM114.40,326.20h1.60v1.60h-1.60zM98.43,327.97h1.60v1.60h-1.60zM101.98,327.97h1.60v1.60h-1.60zM105.53,327.97h1.60v1.60h-1.60zM109.08,327.97h1.60v1.60h-1.60zM112.63,327.97h1.60v1.60h-1.60zM116.18,327.97h0.47v1.60h-0.47zM96.65,329.75h1.60v1.60h-1.60zM100.20,329.75h1.60v1.60h-1.60zM103.75,329.75h1.60v1.60h-1.60zM107.30,329.75h1.60v1.60h-1.60zM110.85,329.75h1.60v1.60h-1.60zM114.40,329.75h1.60v1.60h-1.60zM98.43,331.52h1.60v1.60h-1.60zM101.98,331.52h1.60v1.60h-1.60zM105.53,331.52h1.60v1.60h-1.60zM109.08,331.52h1.60v1.60h-1.60zM112.63,331.52h1.60v1.60h-1.60zM116.18,331.52h0.47v1.60h-0.47zM96.65,333.30h1.60v1.60h-1.60zM100.20,333.30h1.60v1.60h-1.60zM103.75,333.30h1.60v1.60h-1.60zM107.30,333.30h1.60v1.60h-1.60zM110.85,333.30h1.60v1.60h-1.60zM114.40,333.30h1.60v1.60h-1.60zM98.43,335.07h1.60v1.60h-1.60zM101.98,335.07h1.60v1.60h-1.60zM105.53,335.07h1.60v1.60h-1.60zM109.08,335.07h1.60v1.60h-1.60zM112.63,335.07h1.60v1.60h-1.60zM116.18,335.07h0.47v1.60h-0.47zM96.65,336.85h1.60v1.55h-1.60zM100.20,336.85h1.60v1.55h-1.60zM103.75,336.85h1.60v1.55h-1.60zM107.30,336.85h1.60v1.55h-1.60zM110.85,336.85h1.60v1.55h-1.60zM114.40,336.85h1.60v1.55h-1.60z" fill="#000" fill-opacity="0.68"/>
<rect x="96.45" y="301.05" width="20.20" height="37.35" fill="none" stroke="#3a3a3a" stroke-width="0.6"/>
<rect x="122.85" y="230.85" width="20.20" height="107.55" fill="url(#g4)"/>
<path d="M122.85,232.50H143.05M122.85,235.50H143.05M122.85,237.50H143.05M122.85,240.50H143.05M122.85,242.50H143.05M122.85,245.50H143.05M122.85,247.50H143.05M122.85,250.50H143.05M122.85,252.50H143.05M122.85,255.50H143.05M122.85,257.50H143.05M122.85,260.50H143.05M122.85,262.50H143.05M122.85,265.50H143.05M122.85,267.50H143.05M122.85,270.50H143.05M122.85,272.50H143.05M122.85,275.50H143.05M122.85,277.50H143.05M122.85,280.50H143.05M122.85,282.50H143.05M122.85,285.50H143.05M122.85,287.50H143.05M122.85,290.50H143.05M122.85,292.50H143.05M122.85,295.50H143.05M122.85,297.50H143.05M122.85,300.50H143.05M122.85,302.50H143.05M122.85,305.50H143.05M122.85,307.50H143.05M122.85,310.50H143.05M122.85,312.50H143.05M122.85,315.50H143.05M122.85,317.50H143.05M122.85,320.50H143.05M122.85,322.50H143.05M122.85,325.50H143.05M122.85,327.50H143.05M122.85,330.50H143.05M122.85,332.50H143.05M122.85,335.50H143.05M122.85,337.50H143.05" stroke="#000" stroke-opacity="0.55" stroke-width="0.6" fill="none"/><path d="M125.50,230.85V338.40M127.50,230.85V338.40M130.50,230.85V338.40M132.50,230.85V338.40M135.50,230.85V338.40M137.50,230.85V338.40M140.50,230.85V338.40M142.50,230.85V338.40" stroke="#000" stroke-opacity="0.55" stroke-width="0.6" fill="none"/>
<rect x="122.85" y="230.85" width="20.20" height="107.55" fill="none" stroke="#3a3a3a" stroke-width="0.6"/>
<rect x="149.25" y="305.88" width="20.20" height="32.52" fill="url(#g5)"/>

<rect x="149.25" y="305.88" width="20.20" height="32.52" fill="none" stroke="#3a3a3a" stroke-width="0.6"/>
<path d="M27.35,280.12 L53.75,296.86 L80.15,277.86 L106.55,301.05 L132.95,230.85 L159.35,305.88" fill="none" stroke="#222" stroke-width="0.9"/>
<circle cx="27.35" cy="280.12" r="1.35" fill="#111"/>
<circle cx="53.75" cy="296.86" r="1.35" fill="#111"/>
<circle cx="80.15" cy="277.86" r="1.35" fill="#111"/>
<circle cx="106.55" cy="301.05" r="1.35" fill="#111"/>
<circle cx="132.95" cy="230.85" r="1.35" fill="#111"/>
<circle cx="159.35" cy="305.88" r="1.35" fill="#111"/>
<g font-size="6.8" fill="#3c3c3c" stroke="#3c3c3c" stroke-width="0.1"><text transform="translate(22.45,272.30) scale(0.82,1)" text-anchor="middle">1</text><text transform="translate(25.40,272.30) scale(0.82,1)" text-anchor="middle">9</text><text transform="translate(27.90,272.30) scale(0.82,1)" text-anchor="middle">.</text><text transform="translate(31.40,272.30) scale(0.82,1)" text-anchor="middle">8</text><text transform="translate(34.35,272.30) scale(0.82,1)" text-anchor="middle">1</text></g>
<g font-size="6.8" fill="#3c3c3c" stroke="#3c3c3c" stroke-width="0.1"><text transform="translate(47.45,290.70) scale(0.82,1)" text-anchor="middle">1</text><text transform="translate(50.40,290.70) scale(0.82,1)" text-anchor="middle">9</text><text transform="translate(52.90,290.70) scale(0.82,1)" text-anchor="middle">.</text><text transform="translate(56.40,290.70) scale(0.82,1)" text-anchor="middle">2</text><text transform="translate(59.35,290.70) scale(0.82,1)" text-anchor="middle">9</text></g>
<g font-size="6.8" fill="#3c3c3c" stroke="#3c3c3c" stroke-width="0.1"><text transform="translate(74.05,272.30) scale(0.82,1)" text-anchor="middle">1</text><text transform="translate(77.00,272.30) scale(0.82,1)" text-anchor="middle">9</text><text transform="translate(79.50,272.30) scale(0.82,1)" text-anchor="middle">.</text><text transform="translate(83.00,272.30) scale(0.82,1)" text-anchor="middle">8</text><text transform="translate(85.95,272.30) scale(0.82,1)" text-anchor="middle">8</text></g>
<g font-size="6.8" fill="#3c3c3c" stroke="#3c3c3c" stroke-width="0.1"><text transform="translate(97.45,291.90) scale(0.82,1)" text-anchor="middle">1</text><text transform="translate(100.40,291.90) scale(0.82,1)" text-anchor="middle">9</text><text transform="translate(102.90,291.90) scale(0.82,1)" text-anchor="middle">.</text><text transform="translate(106.40,291.90) scale(0.82,1)" text-anchor="middle">1</text><text transform="translate(109.35,291.90) scale(0.82,1)" text-anchor="middle">6</text></g>
<g font-size="6.8" fill="#3c3c3c" stroke="#3c3c3c" stroke-width="0.1"><text transform="translate(126.65,227.20) scale(0.82,1)" text-anchor="middle">2</text><text transform="translate(129.60,227.20) scale(0.82,1)" text-anchor="middle">1</text><text transform="translate(132.10,227.20) scale(0.82,1)" text-anchor="middle">.</text><text transform="translate(135.60,227.20) scale(0.82,1)" text-anchor="middle">3</text><text transform="translate(138.55,227.20) scale(0.82,1)" text-anchor="middle">4</text></g>
<g font-size="6.8" fill="#3c3c3c" stroke="#3c3c3c" stroke-width="0.1"><text transform="translate(157.45,298.80) scale(0.82,1)" text-anchor="middle">1</text><text transform="translate(160.40,298.80) scale(0.82,1)" text-anchor="middle">9</text><text transform="translate(162.90,298.80) scale(0.82,1)" text-anchor="middle">.</text><text transform="translate(166.40,298.80) scale(0.82,1)" text-anchor="middle">0</text><text transform="translate(169.35,298.80) scale(0.82,1)" text-anchor="middle">1</text></g>
<path d="M14.0,209.6 H172.4 V338.4" fill="none" stroke="#6e6e6e" stroke-width="1.1"/>
<path d="M14.0,209.6 V338.4 H172.4" fill="none" stroke="#6e6e6e" stroke-width="1.1"/>
<line x1="11.4" y1="338.40" x2="14.0" y2="338.40" stroke="#555" stroke-width="0.9"/>
<text x="10.1" y="341.50" font-size="8.2" text-anchor="end" fill="#2a2a2a" stroke="#2a2a2a" stroke-width="0.08">18</text>
<line x1="11.4" y1="306.20" x2="14.0" y2="306.20" stroke="#555" stroke-width="0.9"/>
<text x="10.1" y="309.30" font-size="8.2" text-anchor="end" fill="#2a2a2a" stroke="#2a2a2a" stroke-width="0.08">19</text>
<line x1="11.4" y1="274.00" x2="14.0" y2="274.00" stroke="#555" stroke-width="0.9"/>
<text x="10.1" y="277.10" font-size="8.2" text-anchor="end" fill="#2a2a2a" stroke="#2a2a2a" stroke-width="0.08">20</text>
<line x1="11.4" y1="241.80" x2="14.0" y2="241.80" stroke="#555" stroke-width="0.9"/>
<text x="10.1" y="244.90" font-size="8.2" text-anchor="end" fill="#2a2a2a" stroke="#2a2a2a" stroke-width="0.08">21</text>
<line x1="11.4" y1="209.60" x2="14.0" y2="209.60" stroke="#555" stroke-width="0.9"/>
<text x="10.1" y="212.70" font-size="8.2" text-anchor="end" fill="#2a2a2a" stroke="#2a2a2a" stroke-width="0.08">22</text>
<text x="58.7" y="351.0" font-size="10" textLength="69.5" lengthAdjust="spacingAndGlyphs" fill="#111" stroke="#111" stroke-width="0.25">MAE on PEMS04</text>
<line x1="202.7" y1="312.62" x2="359.5" y2="312.62" stroke="#e2e2e2" stroke-width="0.8"/>
<line x1="202.7" y1="286.84" x2="359.5" y2="286.84" stroke="#e2e2e2" stroke-width="0.8"/>
<line x1="202.7" y1="261.06" x2="359.5" y2="261.06" stroke="#e2e2e2" stroke-width="0.8"/>
<line x1="202.7" y1="235.28" x2="359.5" y2="235.28" stroke="#e2e2e2" stroke-width="0.8"/>
<rect x="204.96" y="280.39" width="20.25" height="58.00" fill="url(#g0)"/>
<path d="M204.96,281.04L205.61,280.39M204.96,284.04L208.61,280.39M204.96,287.04L211.61,280.39M204.96,290.04L214.61,280.39M204.96,293.04L217.61,280.39M204.96,296.04L220.61,280.39M204.96,299.04L223.61,280.39M204.96,302.04L225.21,281.79M204.96,305.04L225.21,284.79M204.96,308.04L225.21,287.79M204.96,311.04L225.21,290.79M204.96,314.04L225.21,293.79M204.96,317.04L225.21,296.79M204.96,320.04L225.21,299.79M204.96,323.04L225.21,302.79M204.96,326.04L225.21,305.79M204.96,329.04L225.21,308.79M204.96,332.04L225.21,311.79M204.96,335.04L225.21,314.79M204.96,338.04L225.21,317.79M207.60,338.40L225.21,320.79M210.60,338.40L225.21,323.79M213.60,338.40L225.21,326.79M216.60,338.40L225.21,329.79M219.60,338.40L225.21,332.79M222.60,338.40L225.21,335.79" stroke="#000" stroke-opacity="0.58" stroke-width="0.9" fill="none"/>
<rect x="204.96" y="280.39" width="20.25" height="58.00" fill="none" stroke="#3a3a3a" stroke-width="0.6"/>
<rect x="231.43" y="288.39" width="20.25" height="50.01" fill="url(#g1)"/>
<path d="M231.43,336.43L233.40,338.40M231.43,333.43L236.40,338.40M231.43,330.43L239.40,338.40M231.43,327.43L242.40,338.40M231.43,324.43L245.40,338.40M231.43,321.43L248.40,338.40M231.43,318.43L251.40,338.40M231.43,315.43L251.67,335.67M231.43,312.43L251.67,332.67M231.43,309.43L251.67,329.67M231.43,306.43L251.67,326.67M231.43,303.43L251.67,323.67M231.43,300.43L251.67,320.67M231.43,297.43L251.67,317.67M231.43,294.43L251.67,314.67M231.43,291.43L251.67,311.67M231.43,288.43L251.67,308.67M234.39,288.39L251.67,305.67M237.39,288.39L251.67,302.67M240.39,288.39L251.67,299.67M243.39,288.39L251.67,296.67M246.39,288.39L251.67,293.67M249.39,288.39L251.67,290.67" stroke="#000" stroke-opacity="0.62" stroke-width="0.9" fill="none"/>
<rect x="231.43" y="288.39" width="20.25" height="50.01" fill="none" stroke="#3a3a3a" stroke-width="0.6"/>
<rect x="257.89" y="287.36" width="20.25" height="51.04" fill="url(#g2)"/>
<path d="M257.89,287.50H278.14M257.89,290.50H278.14M257.89,293.50H278.14M257.89,296.50H278.14M257.89,299.50H278.14M257.89,302.50H278.14M257.89,304.50H278.14M257.89,307.50H278.14M257.89,310.50H278.14M257.89,313.50H278.14M257.89,316.50H278.14M257.89,319.50H278.14M257.89,322.50H278.14M257.89,324.50H278.14M257.89,327.50H278.14M257.89,330.50H278.14M257.89,333.50H278.14M257.89,336.50H278.14" stroke="#000" stroke-opacity="0.5" stroke-width="0.8" fill="none"/>
<rect x="257.89" y="287.36" width="20.25" height="51.04" fill="none" stroke="#3a3a3a" stroke-width="0.6"/>
<rect x="284.36" y="295.86" width="20.25" height="42.54" fill="url(#g3)"/>
<path d="M284.56,296.16h1.60v1.60h-1.60zM288.11,296.16h1.60v1.60h-1.60zM291.66,296.16h1.60v1.60h-1.60zM295.21,296.16h1.60v1.60h-1.60zM298.76,296.16h1.60v1.60h-1.60zM302.31,296.16h1.60v1.60h-1.60zM286.33,297.94h1.60v1.60h-1.60zM289.88,297.94h1.60v1.60h-1.60zM293.43,297.94h1.60v1.60h-1.60zM296.98,297.94h1.60v1.60h-1.60zM300.53,297.94h1.60v1.60h-1.60zM304.08,297.94h0.52v1.60h-0.52zM284.56,299.71h1.60v1.60h-1.60zM288.11,299.71h1.60v1.60h-1.60zM291.66,299.71h1.60v1.60h-1.60zM295.21,299.71h1.60v1.60h-1.60zM298.76,299.71h1.60v1.60h-1.60zM302.31,299.71h1.60v1.60h-1.60zM286.33,301.49h1.60v1.60h-1.60zM289.88,301.49h1.60v1.60h-1.60zM293.43,301.49h1.60v1.60h-1.60zM296.98,301.49h1.60v1.60h-1.60zM300.53,301.49h1.60v1.60h-1.60zM304.08,301.49h0.52v1.60h-0.52zM284.56,303.26h1.60v1.60h-1.60zM288.11,303.26h1.60v1.60h-1.60zM291.66,303.26h1.60v1.60h-1.60zM295.21,303.26h1.60v1.60h-1.60zM298.76,303.26h1.60v1.60h-1.60zM302.31,303.26h1.60v1.60h-1.60zM286.33,305.04h1.60v1.60h-1.60zM289.88,305.04h1.60v1.60h-1.60zM293.43,305.04h1.60v1.60h-1.60zM296.98,305.04h1.60v1.60h-1.60zM300.53,305.04h1.60v1.60h-1.60zM304.08,305.04h0.52v1.60h-0.52zM284.56,306.81h1.60v1.60h-1.60zM288.11,306.81h1.60v1.60h-1.60zM291.66,306.81h1.60v1.60h-1.60zM295.21,306.81h1.60v1.60h-1.60zM298.76,306.81h1.60v1.60h-1.60zM302.31,306.81h1.60v1.60h-1.60zM286.33,308.59h1.60v1.60h-1.60zM289.88,308.59h1.60v1.60h-1.60zM293.43,308.59h1.60v1.60h-1.60zM296.98,308.59h1.60v1.60h-1.60zM300.53,308.59h1.60v1.60h-1.60zM304.08,308.59h0.52v1.60h-0.52zM284.56,310.36h1.60v1.60h-1.60zM288.11,310.36h1.60v1.60h-1.60zM291.66,310.36h1.60v1.60h-1.60zM295.21,310.36h1.60v1.60h-1.60zM298.76,310.36h1.60v1.60h-1.60zM302.31,310.36h1.60v1.60h-1.60zM286.33,312.14h1.60v1.60h-1.60zM289.88,312.14h1.60v1.60h-1.60zM293.43,312.14h1.60v1.60h-1.60zM296.98,312.14h1.60v1.60h-1.60zM300.53,312.14h1.60v1.60h-1.60zM304.08,312.14h0.52v1.60h-0.52zM284.56,313.91h1.60v1.60h-1.60zM288.11,313.91h1.60v1.60h-1.60zM291.66,313.91h1.60v1.60h-1.60zM295.21,313.91h1.60v1.60h-1.60zM298.76,313.91h1.60v1.60h-1.60zM302.31,313.91h1.60v1.60h-1.60zM286.33,315.69h1.60v1.60h-1.60zM289.88,315.69h1.60v1.60h-1.60zM293.43,315.69h1.60v1.60h-1.60zM296.98,315.69h1.60v1.60h-1.60zM300.53,315.69h1.60v1.60h-1.60zM304.08,315.69h0.52v1.60h-0.52zM284.56,317.46h1.60v1.60h-1.60zM288.11,317.46h1.60v1.60h-1.60zM291.66,317.46h1.60v1.60h-1.60zM295.21,317.46h1.60v1.60h-1.60zM298.76,317.46h1.60v1.60h-1.60zM302.31,317.46h1.60v1.60h-1.60zM286.33,319.24h1.60v1.60h-1.60zM289.88,319.24h1.60v1.60h-1.60zM293.43,319.24h1.60v1.60h-1.60zM296.98,319.24h1.60v1.60h-1.60zM300.53,319.24h1.60v1.60h-1.60zM304.08,319.24h0.52v1.60h-0.52zM284.56,321.01h1.60v1.60h-1.60zM288.11,321.01h1.60v1.60h-1.60zM291.66,321.01h1.60v1.60h-1.60zM295.21,321.01h1.60v1.60h-1.60zM298.76,321.01h1.60v1.60h-1.60zM302.31,321.01h1.60v1.60h-1.60zM286.33,322.79h1.60v1.60h-1.60zM289.88,322.79h1.60v1.60h-1.60zM293.43,322.79h1.60v1.60h-1.60zM296.98,322.79h1.60v1.60h-1.60zM300.53,322.79h1.60v1.60h-1.60zM304.08,322.79h0.52v1.60h-0.52zM284.56,324.56h1.60v1.60h-1.60zM288.11,324.56h1.60v1.60h-1.60zM291.66,324.56h1.60v1.60h-1.60zM295.21,324.56h1.60v1.60h-1.60zM298.76,324.56h1.60v1.60h-1.60zM302.31,324.56h1.60v1.60h-1.60zM286.33,326.34h1.60v1.60h-1.60zM289.88,326.34h1.60v1.60h-1.60zM293.43,326.34h1.60v1.60h-1.60zM296.98,326.34h1.60v1.60h-1.60zM300.53,326.34h1.60v1.60h-1.60zM304.08,326.34h0.52v1.60h-0.52zM284.56,328.11h1.60v1.60h-1.60zM288.11,328.11h1.60v1.60h-1.60zM291.66,328.11h1.60v1.60h-1.60zM295.21,328.11h1.60v1.60h-1.60zM298.76,328.11h1.60v1.60h-1.60zM302.31,328.11h1.60v1.60h-1.60zM286.33,329.89h1.60v1.60h-1.60zM289.88,329.89h1.60v1.60h-1.60zM293.43,329.89h1.60v1.60h-1.60zM296.98,329.89h1.60v1.60h-1.60zM300.53,329.89h1.60v1.60h-1.60zM304.08,329.89h0.52v1.60h-0.52zM284.56,331.66h1.60v1.60h-1.60zM288.11,331.66h1.60v1.60h-1.60zM291.66,331.66h1.60v1.60h-1.60zM295.21,331.66h1.60v1.60h-1.60zM298.76,331.66h1.60v1.60h-1.60zM302.31,331.66h1.60v1.60h-1.60zM286.33,333.44h1.60v1.60h-1.60zM289.88,333.44h1.60v1.60h-1.60zM293.43,333.44h1.60v1.60h-1.60zM296.98,333.44h1.60v1.60h-1.60zM300.53,333.44h1.60v1.60h-1.60zM304.08,333.44h0.52v1.60h-0.52zM284.56,335.21h1.60v1.60h-1.60zM288.11,335.21h1.60v1.60h-1.60zM291.66,335.21h1.60v1.60h-1.60zM295.21,335.21h1.60v1.60h-1.60zM298.76,335.21h1.60v1.60h-1.60zM302.31,335.21h1.60v1.60h-1.60zM286.33,336.99h1.60v1.41h-1.60zM289.88,336.99h1.60v1.41h-1.60zM293.43,336.99h1.60v1.41h-1.60zM296.98,336.99h1.60v1.41h-1.60zM300.53,336.99h1.60v1.41h-1.60zM304.08,336.99h0.52v1.41h-0.52z" fill="#000" fill-opacity="0.68"/>
<rect x="284.36" y="295.86" width="20.25" height="42.54" fill="none" stroke="#3a3a3a" stroke-width="0.6"/>
<rect x="310.83" y="242.24" width="20.25" height="96.16" fill="url(#g4)"/>
<path d="M310.83,242.50H331.07M310.83,245.50H331.07M310.83,247.50H331.07M310.83,250.50H331.07M310.83,252.50H331.07M310.83,255.50H331.07M310.83,257.50H331.07M310.83,260.50H331.07M310.83,262.50H331.07M310.83,265.50H331.07M310.83,267.50H331.07M310.83,270.50H331.07M310.83,272.50H331.07M310.83,275.50H331.07M310.83,277.50H331.07M310.83,280.50H331.07M310.83,282.50H331.07M310.83,285.50H331.07M310.83,287.50H331.07M310.83,290.50H331.07M310.83,292.50H331.07M310.83,295.50H331.07M310.83,297.50H331.07M310.83,300.50H331.07M310.83,302.50H331.07M310.83,305.50H331.07M310.83,307.50H331.07M310.83,310.50H331.07M310.83,312.50H331.07M310.83,315.50H331.07M310.83,317.50H331.07M310.83,320.50H331.07M310.83,322.50H331.07M310.83,325.50H331.07M310.83,327.50H331.07M310.83,330.50H331.07M310.83,332.50H331.07M310.83,335.50H331.07M310.83,337.50H331.07" stroke="#000" stroke-opacity="0.55" stroke-width="0.6" fill="none"/><path d="M312.50,242.24V338.40M315.50,242.24V338.40M317.50,242.24V338.40M320.50,242.24V338.40M322.50,242.24V338.40M325.50,242.24V338.40M327.50,242.24V338.40M330.50,242.24V338.40" stroke="#000" stroke-opacity="0.55" stroke-width="0.6" fill="none"/>
<rect x="310.83" y="242.24" width="20.25" height="96.16" fill="none" stroke="#3a3a3a" stroke-width="0.6"/>
<rect x="337.29" y="305.66" width="20.25" height="32.74" fill="url(#g5)"/>

<rect x="337.29" y="305.66" width="20.25" height="32.74" fill="none" stroke="#3a3a3a" stroke-width="0.6"/>
<path d="M215.08,280.39 L241.55,288.39 L268.02,287.36 L294.48,295.86 L320.95,242.24 L347.42,305.66" fill="none" stroke="#222" stroke-width="0.9"/>
<circle cx="215.08" cy="280.39" r="1.35" fill="#111"/>
<circle cx="241.55" cy="288.39" r="1.35" fill="#111"/>
<circle cx="268.02" cy="287.36" r="1.35" fill="#111"/>
<circle cx="294.48" cy="295.86" r="1.35" fill="#111"/>
<circle cx="320.95" cy="242.24" r="1.35" fill="#111"/>
<circle cx="347.42" cy="305.66" r="1.35" fill="#111"/>
<g font-size="6.8" fill="#3c3c3c" stroke="#3c3c3c" stroke-width="0.1"><text transform="translate(209.55,277.20) scale(0.82,1)" text-anchor="middle">3</text><text transform="translate(212.50,277.20) scale(0.82,1)" text-anchor="middle">2</text><text transform="translate(215.00,277.20) scale(0.82,1)" text-anchor="middle">.</text><text transform="translate(218.50,277.20) scale(0.82,1)" text-anchor="middle">2</text><text transform="translate(221.45,277.20) scale(0.82,1)" text-anchor="middle">5</text></g>
<g font-size="6.8" fill="#3c3c3c" stroke="#3c3c3c" stroke-width="0.1"><text transform="translate(235.35,282.60) scale(0.82,1)" text-anchor="middle">3</text><text transform="translate(238.30,282.60) scale(0.82,1)" text-anchor="middle">1</text><text transform="translate(240.80,282.60) scale(0.82,1)" text-anchor="middle">.</text><text transform="translate(244.30,282.60) scale(0.82,1)" text-anchor="middle">9</text><text transform="translate(247.25,282.60) scale(0.82,1)" text-anchor="middle">4</text></g>
<g font-size="6.8" fill="#3c3c3c" stroke="#3c3c3c" stroke-width="0.1"><text transform="translate(261.75,282.60) scale(0.82,1)" text-anchor="middle">3</text><text transform="translate(264.70,282.60) scale(0.82,1)" text-anchor="middle">1</text><text transform="translate(267.20,282.60) scale(0.82,1)" text-anchor="middle">.</text><text transform="translate(270.70,282.60) scale(0.82,1)" text-anchor="middle">9</text><text transform="translate(273.65,282.60) scale(0.82,1)" text-anchor="middle">8</text></g>
<g font-size="6.8" fill="#3c3c3c" stroke="#3c3c3c" stroke-width="0.1"><text transform="translate(284.45,290.40) scale(0.82,1)" text-anchor="middle">3</text><text transform="translate(287.40,290.40) scale(0.82,1)" text-anchor="middle">1</text><text transform="translate(289.90,290.40) scale(0.82,1)" text-anchor="middle">.</text><text transform="translate(293.40,290.40) scale(0.82,1)" text-anchor="middle">6</text><text transform="translate(296.35,290.40) scale(0.82,1)" text-anchor="middle">5</text></g>
<g font-size="6.8" fill="#3c3c3c" stroke="#3c3c3c" stroke-width="0.1"><text transform="translate(314.75,238.90) scale(0.82,1)" text-anchor="middle">3</text><text transform="translate(317.70,238.90) scale(0.82,1)" text-anchor="middle">3</text><text transform="translate(320.20,238.90) scale(0.82,1)" text-anchor="middle">.</text><text transform="translate(323.70,238.90) scale(0.82,1)" text-anchor="middle">7</text><text transform="translate(326.65,238.90) scale(0.82,1)" text-anchor="middle">3</text></g>
<g font-size="6.8" fill="#3c3c3c" stroke="#3c3c3c" stroke-width="0.1"><text transform="translate(345.25,297.80) scale(0.82,1)" text-anchor="middle">3</text><text transform="translate(348.20,297.80) scale(0.82,1)" text-anchor="middle">1</text><text transform="translate(350.70,297.80) scale(0.82,1)" text-anchor="middle">.</text><text transform="translate(354.20,297.80) scale(0.82,1)" text-anchor="middle">2</text><text transform="translate(357.15,297.80) scale(0.82,1)" text-anchor="middle">7</text></g>
<path d="M201.7,209.5 H360.5 V338.4" fill="none" stroke="#6e6e6e" stroke-width="1.1"/>
<path d="M201.7,209.5 V338.4 H360.5" fill="none" stroke="#6e6e6e" stroke-width="1.1"/>
<line x1="199.1" y1="338.40" x2="201.7" y2="338.40" stroke="#555" stroke-width="0.9"/>
<text x="197.79999999999998" y="341.50" font-size="8.2" text-anchor="end" fill="#2a2a2a" stroke="#2a2a2a" stroke-width="0.08">30</text>
<line x1="199.1" y1="312.62" x2="201.7" y2="312.62" stroke="#555" stroke-width="0.9"/>
<text x="197.79999999999998" y="315.72" font-size="8.2" text-anchor="end" fill="#2a2a2a" stroke="#2a2a2a" stroke-width="0.08">31</text>
<line x1="199.1" y1="286.84" x2="201.7" y2="286.84" stroke="#555" stroke-width="0.9"/>
<text x="197.79999999999998" y="289.94" font-size="8.2" text-anchor="end" fill="#2a2a2a" stroke="#2a2a2a" stroke-width="0.08">32</text>
<line x1="199.1" y1="261.06" x2="201.7" y2="261.06" stroke="#555" stroke-width="0.9"/>
<text x="197.79999999999998" y="264.16" font-size="8.2" text-anchor="end" fill="#2a2a2a" stroke="#2a2a2a" stroke-width="0.08">33</text>
<line x1="199.1" y1="235.28" x2="201.7" y2="235.28" stroke="#555" stroke-width="0.9"/>
<text x="197.79999999999998" y="238.38" font-size="8.2" text-anchor="end" fill="#2a2a2a" stroke="#2a2a2a" stroke-width="0.08">34</text>
<line x1="199.1" y1="209.50" x2="201.7" y2="209.50" stroke="#555" stroke-width="0.9"/>
<text x="197.79999999999998" y="212.60" font-size="8.2" text-anchor="end" fill="#2a2a2a" stroke="#2a2a2a" stroke-width="0.08">35</text>
<text x="244.2" y="351.0" font-size="10" textLength="74.5" lengthAdjust="spacingAndGlyphs" fill="#111" stroke="#111" stroke-width="0.25">RMSE on PEMS04</text>
<line x1="388.4" y1="306.20" x2="544.8" y2="306.20" stroke="#e2e2e2" stroke-width="0.8"/>
<line x1="388.4" y1="274.00" x2="544.8" y2="274.00" stroke="#e2e2e2" stroke-width="0.8"/>
<line x1="388.4" y1="241.80" x2="544.8" y2="241.80" stroke="#e2e2e2" stroke-width="0.8"/>
<rect x="390.65" y="268.53" width="20.20" height="69.87" fill="url(#g0)"/>
<path d="M390.65,269.35L391.47,268.53M390.65,272.35L394.47,268.53M390.65,275.35L397.47,268.53M390.65,278.35L400.47,268.53M390.65,281.35L403.47,268.53M390.65,284.35L406.47,268.53M390.65,287.35L409.47,268.53M390.65,290.35L410.85,270.15M390.65,293.35L410.85,273.15M390.65,296.35L410.85,276.15M390.65,299.35L410.85,279.15M390.65,302.35L410.85,282.15M390.65,305.35L410.85,285.15M390.65,308.35L410.85,288.15M390.65,311.35L410.85,291.15M390.65,314.35L410.85,294.15M390.65,317.35L410.85,297.15M390.65,320.35L410.85,300.15M390.65,323.35L410.85,303.15M390.65,326.35L410.85,306.15M390.65,329.35L410.85,309.15M390.65,332.35L410.85,312.15M390.65,335.35L410.85,315.15M390.65,338.35L410.85,318.15M393.60,338.40L410.85,321.15M396.60,338.40L410.85,324.15M399.60,338.40L410.85,327.15M402.60,338.40L410.85,330.15M405.60,338.40L410.85,333.15M408.60,338.40L410.85,336.15" stroke="#000" stroke-opacity="0.58" stroke-width="0.9" fill="none"/>
<rect x="390.65" y="268.53" width="20.20" height="69.87" fill="none" stroke="#3a3a3a" stroke-width="0.6"/>
<rect x="417.05" y="278.51" width="20.20" height="59.89" fill="url(#g1)"/>
<path d="M417.05,336.05L419.40,338.40M417.05,333.05L422.40,338.40M417.05,330.05L425.40,338.40M417.05,327.05L428.40,338.40M417.05,324.05L431.40,338.40M417.05,321.05L434.40,338.40M417.05,318.05L437.25,338.25M417.05,315.05L437.25,335.25M417.05,312.05L437.25,332.25M417.05,309.05L437.25,329.25M417.05,306.05L437.25,326.25M417.05,303.05L437.25,323.25M417.05,300.05L437.25,320.25M417.05,297.05L437.25,317.25M417.05,294.05L437.25,314.25M417.05,291.05L437.25,311.25M417.05,288.05L437.25,308.25M417.05,285.05L437.25,305.25M417.05,282.05L437.25,302.25M417.05,279.05L437.25,299.25M419.51,278.51L437.25,296.25M422.51,278.51L437.25,293.25M425.51,278.51L437.25,290.25M428.51,278.51L437.25,287.25M431.51,278.51L437.25,284.25M434.51,278.51L437.25,281.25" stroke="#000" stroke-opacity="0.62" stroke-width="0.9" fill="none"/>
<rect x="417.05" y="278.51" width="20.20" height="59.89" fill="none" stroke="#3a3a3a" stroke-width="0.6"/>
<rect x="443.45" y="260.80" width="20.20" height="77.60" fill="url(#g2)"/>
<path d="M443.45,262.50H463.65M443.45,265.50H463.65M443.45,267.50H463.65M443.45,270.50H463.65M443.45,273.50H463.65M443.45,276.50H463.65M443.45,279.50H463.65M443.45,282.50H463.65M443.45,285.50H463.65M443.45,287.50H463.65M443.45,290.50H463.65M443.45,293.50H463.65M443.45,296.50H463.65M443.45,299.50H463.65M443.45,302.50H463.65M443.45,304.50H463.65M443.45,307.50H463.65M443.45,310.50H463.65M443.45,313.50H463.65M443.45,316.50H463.65M443.45,319.50H463.65M443.45,322.50H463.65M443.45,324.50H463.65M443.45,327.50H463.65M443.45,330.50H463.65M443.45,333.50H463.65M443.45,336.50H463.65" stroke="#000" stroke-opacity="0.5" stroke-width="0.8" fill="none"/>
<rect x="443.45" y="260.80" width="20.20" height="77.60" fill="none" stroke="#3a3a3a" stroke-width="0.6"/>
<rect x="469.85" y="286.24" width="20.20" height="52.16" fill="url(#g3)"/>
<path d="M470.05,286.54h1.60v1.60h-1.60zM473.60,286.54h1.60v1.60h-1.60zM477.15,286.54h1.60v1.60h-1.60zM480.70,286.54h1.60v1.60h-1.60zM484.25,286.54h1.60v1.60h-1.60zM487.80,286.54h1.60v1.60h-1.60zM471.83,288.31h1.60v1.60h-1.60zM475.38,288.31h1.60v1.60h-1.60zM478.93,288.31h1.60v1.60h-1.60zM482.48,288.31h1.60v1.60h-1.60zM486.03,288.31h1.60v1.60h-1.60zM489.58,288.31h0.47v1.60h-0.47zM470.05,290.09h1.60v1.60h-1.60zM473.60,290.09h1.60v1.60h-1.60zM477.15,290.09h1.60v1.60h-1.60zM480.70,290.09h1.60v1.60h-1.60zM484.25,290.09h1.60v1.60h-1.60zM487.80,290.09h1.60v1.60h-1.60zM471.83,291.86h1.60v1.60h-1.60zM475.38,291.86h1.60v1.60h-1.60zM478.93,291.86h1.60v1.60h-1.60zM482.48,291.86h1.60v1.60h-1.60zM486.03,291.86h1.60v1.60h-1.60zM489.58,291.86h0.47v1.60h-0.47zM470.05,293.64h1.60v1.60h-1.60zM473.60,293.64h1.60v1.60h-1.60zM477.15,293.64h1.60v1.60h-1.60zM480.70,293.64h1.60v1.60h-1.60zM484.25,293.64h1.60v1.60h-1.60zM487.80,293.64h1.60v1.60h-1.60zM471.83,295.41h1.60v1.60h-1.60zM475.38,295.41h1.60v1.60h-1.60zM478.93,295.41h1.60v1.60h-1.60zM482.48,295.41h1.60v1.60h-1.60zM486.03,295.41h1.60v1.60h-1.60zM489.58,295.41h0.47v1.60h-0.47zM470.05,297.19h1.60v1.60h-1.60zM473.60,297.19h1.60v1.60h-1.60zM477.15,297.19h1.60v1.60h-1.60zM480.70,297.19h1.60v1.60h-1.60zM484.25,297.19h1.60v1.60h-1.60zM487.80,297.19h1.60v1.60h-1.60zM471.83,298.96h1.60v1.60h-1.60zM475.38,298.96h1.60v1.60h-1.60zM478.93,298.96h1.60v1.60h-1.60zM482.48,298.96h1.60v1.60h-1.60zM486.03,298.96h1.60v1.60h-1.60zM489.58,298.96h0.47v1.60h-0.47zM470.05,300.74h1.60v1.60h-1.60zM473.60,300.74h1.60v1.60h-1.60zM477.15,300.74h1.60v1.60h-1.60zM480.70,300.74h1.60v1.60h-1.60zM484.25,300.74h1.60v1.60h-1.60zM487.80,300.74h1.60v1.60h-1.60zM471.83,302.51h1.60v1.60h-1.60zM475.38,302.51h1.60v1.60h-1.60zM478.93,302.51h1.60v1.60h-1.60zM482.48,302.51h1.60v1.60h-1.60zM486.03,302.51h1.60v1.60h-1.60zM489.58,302.51h0.47v1.60h-0.47zM470.05,304.29h1.60v1.60h-1.60zM473.60,304.29h1.60v1.60h-1.60zM477.15,304.29h1.60v1.60h-1.60zM480.70,304.29h1.60v1.60h-1.60zM484.25,304.29h1.60v1.60h-1.60zM487.80,304.29h1.60v1.60h-1.60zM471.83,306.06h1.60v1.60h-1.60zM475.38,306.06h1.60v1.60h-1.60zM478.93,306.06h1.60v1.60h-1.60zM482.48,306.06h1.60v1.60h-1.60zM486.03,306.06h1.60v1.60h-1.60zM489.58,306.06h0.47v1.60h-0.47zM470.05,307.84h1.60v1.60h-1.60zM473.60,307.84h1.60v1.60h-1.60zM477.15,307.84h1.60v1.60h-1.60zM480.70,307.84h1.60v1.60h-1.60zM484.25,307.84h1.60v1.60h-1.60zM487.80,307.84h1.60v1.60h-1.60zM471.83,309.61h1.60v1.60h-1.60zM475.38,309.61h1.60v1.60h-1.60zM478.93,309.61h1.60v1.60h-1.60zM482.48,309.61h1.60v1.60h-1.60zM486.03,309.61h1.60v1.60h-1.60zM489.58,309.61h0.47v1.60h-0.47zM470.05,311.39h1.60v1.60h-1.60zM473.60,311.39h1.60v1.60h-1.60zM477.15,311.39h1.60v1.60h-1.60zM480.70,311.39h1.60v1.60h-1.60zM484.25,311.39h1.60v1.60h-1.60zM487.80,311.39h1.60v1.60h-1.60zM471.83,313.16h1.60v1.60h-1.60zM475.38,313.16h1.60v1.60h-1.60zM478.93,313.16h1.60v1.60h-1.60zM482.48,313.16h1.60v1.60h-1.60zM486.03,313.16h1.60v1.60h-1.60zM489.58,313.16h0.47v1.60h-0.47zM470.05,314.94h1.60v1.60h-1.60zM473.60,314.94h1.60v1.60h-1.60zM477.15,314.94h1.60v1.60h-1.60zM480.70,314.94h1.60v1.60h-1.60zM484.25,314.94h1.60v1.60h-1.60zM487.80,314.94h1.60v1.60h-1.60zM471.83,316.71h1.60v1.60h-1.60zM475.38,316.71h1.60v1.60h-1.60zM478.93,316.71h1.60v1.60h-1.60zM482.48,316.71h1.60v1.60h-1.60zM486.03,316.71h1.60v1.60h-1.60zM489.58,316.71h0.47v1.60h-0.47zM470.05,318.49h1.60v1.60h-1.60zM473.60,318.49h1.60v1.60h-1.60zM477.15,318.49h1.60v1.60h-1.60zM480.70,318.49h1.60v1.60h-1.60zM484.25,318.49h1.60v1.60h-1.60zM487.80,318.49h1.60v1.60h-1.60zM471.83,320.26h1.60v1.60h-1.60zM475.38,320.26h1.60v1.60h-1.60zM478.93,320.26h1.60v1.60h-1.60zM482.48,320.26h1.60v1.60h-1.60zM486.03,320.26h1.60v1.60h-1.60zM489.58,320.26h0.47v1.60h-0.47zM470.05,322.04h1.60v1.60h-1.60zM473.60,322.04h1.60v1.60h-1.60zM477.15,322.04h1.60v1.60h-1.60zM480.70,322.04h1.60v1.60h-1.60zM484.25,322.04h1.60v1.60h-1.60zM487.80,322.04h1.60v1.60h-1.60zM471.83,323.81h1.60v1.60h-1.60zM475.38,323.81h1.60v1.60h-1.60zM478.93,323.81h1.60v1.60h-1.60zM482.48,323.81h1.60v1.60h-1.60zM486.03,323.81h1.60v1.60h-1.60zM489.58,323.81h0.47v1.60h-0.47zM470.05,325.59h1.60v1.60h-1.60zM473.60,325.59h1.60v1.60h-1.60zM477.15,325.59h1.60v1.60h-1.60zM480.70,325.59h1.60v1.60h-1.60zM484.25,325.59h1.60v1.60h-1.60zM487.80,325.59h1.60v1.60h-1.60zM471.83,327.36h1.60v1.60h-1.60zM475.38,327.36h1.60v1.60h-1.60zM478.93,327.36h1.60v1.60h-1.60zM482.48,327.36h1.60v1.60h-1.60zM486.03,327.36h1.60v1.60h-1.60zM489.58,327.36h0.47v1.60h-0.47zM470.05,329.14h1.60v1.60h-1.60zM473.60,329.14h1.60v1.60h-1.60zM477.15,329.14h1.60v1.60h-1.60zM480.70,329.14h1.60v1.60h-1.60zM484.25,329.14h1.60v1.60h-1.60zM487.80,329.14h1.60v1.60h-1.60zM471.83,330.91h1.60v1.60h-1.60zM475.38,330.91h1.60v1.60h-1.60zM478.93,330.91h1.60v1.60h-1.60zM482.48,330.91h1.60v1.60h-1.60zM486.03,330.91h1.60v1.60h-1.60zM489.58,330.91h0.47v1.60h-0.47zM470.05,332.69h1.60v1.60h-1.60zM473.60,332.69h1.60v1.60h-1.60zM477.15,332.69h1.60v1.60h-1.60zM480.70,332.69h1.60v1.60h-1.60zM484.25,332.69h1.60v1.60h-1.60zM487.80,332.69h1.60v1.60h-1.60zM471.83,334.46h1.60v1.60h-1.60zM475.38,334.46h1.60v1.60h-1.60zM478.93,334.46h1.60v1.60h-1.60zM482.48,334.46h1.60v1.60h-1.60zM486.03,334.46h1.60v1.60h-1.60zM489.58,334.46h0.47v1.60h-0.47zM470.05,336.24h1.60v1.60h-1.60zM473.60,336.24h1.60v1.60h-1.60zM477.15,336.24h1.60v1.60h-1.60zM480.70,336.24h1.60v1.60h-1.60zM484.25,336.24h1.60v1.60h-1.60zM487.80,336.24h1.60v1.60h-1.60zM471.83,338.01h1.60v0.39h-1.60zM475.38,338.01h1.60v0.39h-1.60zM478.93,338.01h1.60v0.39h-1.60zM482.48,338.01h1.60v0.39h-1.60zM486.03,338.01h1.60v0.39h-1.60zM489.58,338.01h0.47v0.39h-0.47z" fill="#000" fill-opacity="0.68"/>
<rect x="469.85" y="286.24" width="20.20" height="52.16" fill="none" stroke="#3a3a3a" stroke-width="0.6"/>
<rect x="496.25" y="239.22" width="20.20" height="99.18" fill="url(#g4)"/>
<path d="M496.25,240.50H516.45M496.25,242.50H516.45M496.25,245.50H516.45M496.25,247.50H516.45M496.25,250.50H516.45M496.25,252.50H516.45M496.25,255.50H516.45M496.25,257.50H516.45M496.25,260.50H516.45M496.25,262.50H516.45M496.25,265.50H516.45M496.25,267.50H516.45M496.25,270.50H516.45M496.25,272.50H516.45M496.25,275.50H516.45M496.25,277.50H516.45M496.25,280.50H516.45M496.25,282.50H516.45M496.25,285.50H516.45M496.25,287.50H516.45M496.25,290.50H516.45M496.25,292.50H516.45M496.25,295.50H516.45M496.25,297.50H516.45M496.25,300.50H516.45M496.25,302.50H516.45M496.25,305.50H516.45M496.25,307.50H516.45M496.25,310.50H516.45M496.25,312.50H516.45M496.25,315.50H516.45M496.25,317.50H516.45M496.25,320.50H516.45M496.25,322.50H516.45M496.25,325.50H516.45M496.25,327.50H516.45M496.25,330.50H516.45M496.25,332.50H516.45M496.25,335.50H516.45M496.25,337.50H516.45" stroke="#000" stroke-opacity="0.55" stroke-width="0.6" fill="none"/><path d="M497.50,239.22V338.40M500.50,239.22V338.40M502.50,239.22V338.40M505.50,239.22V338.40M507.50,239.22V338.40M510.50,239.22V338.40M512.50,239.22V338.40M515.50,239.22V338.40" stroke="#000" stroke-opacity="0.55" stroke-width="0.6" fill="none"/>
<rect x="496.25" y="239.22" width="20.20" height="99.18" fill="none" stroke="#3a3a3a" stroke-width="0.6"/>
<rect x="522.65" y="288.81" width="20.20" height="49.59" fill="url(#g5)"/>

<rect x="522.65" y="288.81" width="20.20" height="49.59" fill="none" stroke="#3a3a3a" stroke-width="0.6"/>
<path d="M400.75,268.53 L427.15,278.51 L453.55,260.80 L479.95,286.24 L506.35,239.22 L532.75,288.81" fill="none" stroke="#222" stroke-width="0.9"/>
<circle cx="400.75" cy="268.53" r="1.35" fill="#111"/>
<circle cx="427.15" cy="278.51" r="1.35" fill="#111"/>
<circle cx="453.55" cy="260.80" r="1.35" fill="#111"/>
<circle cx="479.95" cy="286.24" r="1.35" fill="#111"/>
<circle cx="506.35" cy="239.22" r="1.35" fill="#111"/>
<circle cx="532.75" cy="288.81" r="1.35" fill="#111"/>
<g font-size="6.8" fill="#3c3c3c" stroke="#3c3c3c" stroke-width="0.1"><text transform="translate(394.75,264.30) scale(0.82,1)" text-anchor="middle">1</text><text transform="translate(397.70,264.30) scale(0.82,1)" text-anchor="middle">3</text><text transform="translate(400.20,264.30) scale(0.82,1)" text-anchor="middle">.</text><text transform="translate(403.70,264.30) scale(0.82,1)" text-anchor="middle">1</text><text transform="translate(406.65,264.30) scale(0.82,1)" text-anchor="middle">7</text></g>
<g font-size="6.8" fill="#3c3c3c" stroke="#3c3c3c" stroke-width="0.1"><text transform="translate(420.55,272.60) scale(0.82,1)" text-anchor="middle">1</text><text transform="translate(423.50,272.60) scale(0.82,1)" text-anchor="middle">2</text><text transform="translate(426.00,272.60) scale(0.82,1)" text-anchor="middle">.</text><text transform="translate(429.50,272.60) scale(0.82,1)" text-anchor="middle">8</text><text transform="translate(432.45,272.60) scale(0.82,1)" text-anchor="middle">6</text></g>
<g font-size="6.8" fill="#3c3c3c" stroke="#3c3c3c" stroke-width="0.1"><text transform="translate(447.65,254.90) scale(0.82,1)" text-anchor="middle">1</text><text transform="translate(450.60,254.90) scale(0.82,1)" text-anchor="middle">3</text><text transform="translate(453.10,254.90) scale(0.82,1)" text-anchor="middle">.</text><text transform="translate(456.60,254.90) scale(0.82,1)" text-anchor="middle">4</text><text transform="translate(459.55,254.90) scale(0.82,1)" text-anchor="middle">1</text></g>
<g font-size="6.8" fill="#3c3c3c" stroke="#3c3c3c" stroke-width="0.1"><text transform="translate(469.95,275.50) scale(0.82,1)" text-anchor="middle">1</text><text transform="translate(472.90,275.50) scale(0.82,1)" text-anchor="middle">2</text><text transform="translate(475.40,275.50) scale(0.82,1)" text-anchor="middle">.</text><text transform="translate(478.90,275.50) scale(0.82,1)" text-anchor="middle">6</text><text transform="translate(481.85,275.50) scale(0.82,1)" text-anchor="middle">2</text></g>
<g font-size="6.8" fill="#3c3c3c" stroke="#3c3c3c" stroke-width="0.1"><text transform="translate(500.25,235.90) scale(0.82,1)" text-anchor="middle">1</text><text transform="translate(503.20,235.90) scale(0.82,1)" text-anchor="middle">4</text><text transform="translate(505.70,235.90) scale(0.82,1)" text-anchor="middle">.</text><text transform="translate(509.20,235.90) scale(0.82,1)" text-anchor="middle">0</text><text transform="translate(512.15,235.90) scale(0.82,1)" text-anchor="middle">8</text></g>
<g font-size="6.8" fill="#3c3c3c" stroke="#3c3c3c" stroke-width="0.1"><text transform="translate(530.95,281.60) scale(0.82,1)" text-anchor="middle">1</text><text transform="translate(533.90,281.60) scale(0.82,1)" text-anchor="middle">2</text><text transform="translate(536.40,281.60) scale(0.82,1)" text-anchor="middle">.</text><text transform="translate(539.90,281.60) scale(0.82,1)" text-anchor="middle">5</text><text transform="translate(542.85,281.60) scale(0.82,1)" text-anchor="middle">4</text></g>
<path d="M387.4,209.6 H545.8 V338.4" fill="none" stroke="#6e6e6e" stroke-width="1.1"/>
<path d="M387.4,209.6 V338.4 H545.8" fill="none" stroke="#6e6e6e" stroke-width="1.1"/>
<line x1="384.79999999999995" y1="338.40" x2="387.4" y2="338.40" stroke="#555" stroke-width="0.9"/>
<text x="383.5" y="341.50" font-size="8.2" text-anchor="end" fill="#2a2a2a" stroke="#2a2a2a" stroke-width="0.08">11</text>
<line x1="384.79999999999995" y1="306.20" x2="387.4" y2="306.20" stroke="#555" stroke-width="0.9"/>
<text x="383.5" y="309.30" font-size="8.2" text-anchor="end" fill="#2a2a2a" stroke="#2a2a2a" stroke-width="0.08">12</text>
<line x1="384.79999999999995" y1="274.00" x2="387.4" y2="274.00" stroke="#555" stroke-width="0.9"/>
<text x="383.5" y="277.10" font-size="8.2" text-anchor="end" fill="#2a2a2a" stroke="#2a2a2a" stroke-width="0.08">13</text>
<line x1="384.79999999999995" y1="241.80" x2="387.4" y2="241.80" stroke="#555" stroke-width="0.9"/>
<text x="383.5" y="244.90" font-size="8.2" text-anchor="end" fill="#2a2a2a" stroke="#2a2a2a" stroke-width="0.08">14</text>
<line x1="384.79999999999995" y1="209.60" x2="387.4" y2="209.60" stroke="#555" stroke-width="0.9"/>
<text x="383.5" y="212.70" font-size="8.2" text-anchor="end" fill="#2a2a2a" stroke="#2a2a2a" stroke-width="0.08">15</text>
<text x="429.1" y="351.0" font-size="10" textLength="75.4" lengthAdjust="spacingAndGlyphs" fill="#111" stroke="#111" stroke-width="0.25">MAPE on PEMS04</text>
</g></svg>
</body></html>
